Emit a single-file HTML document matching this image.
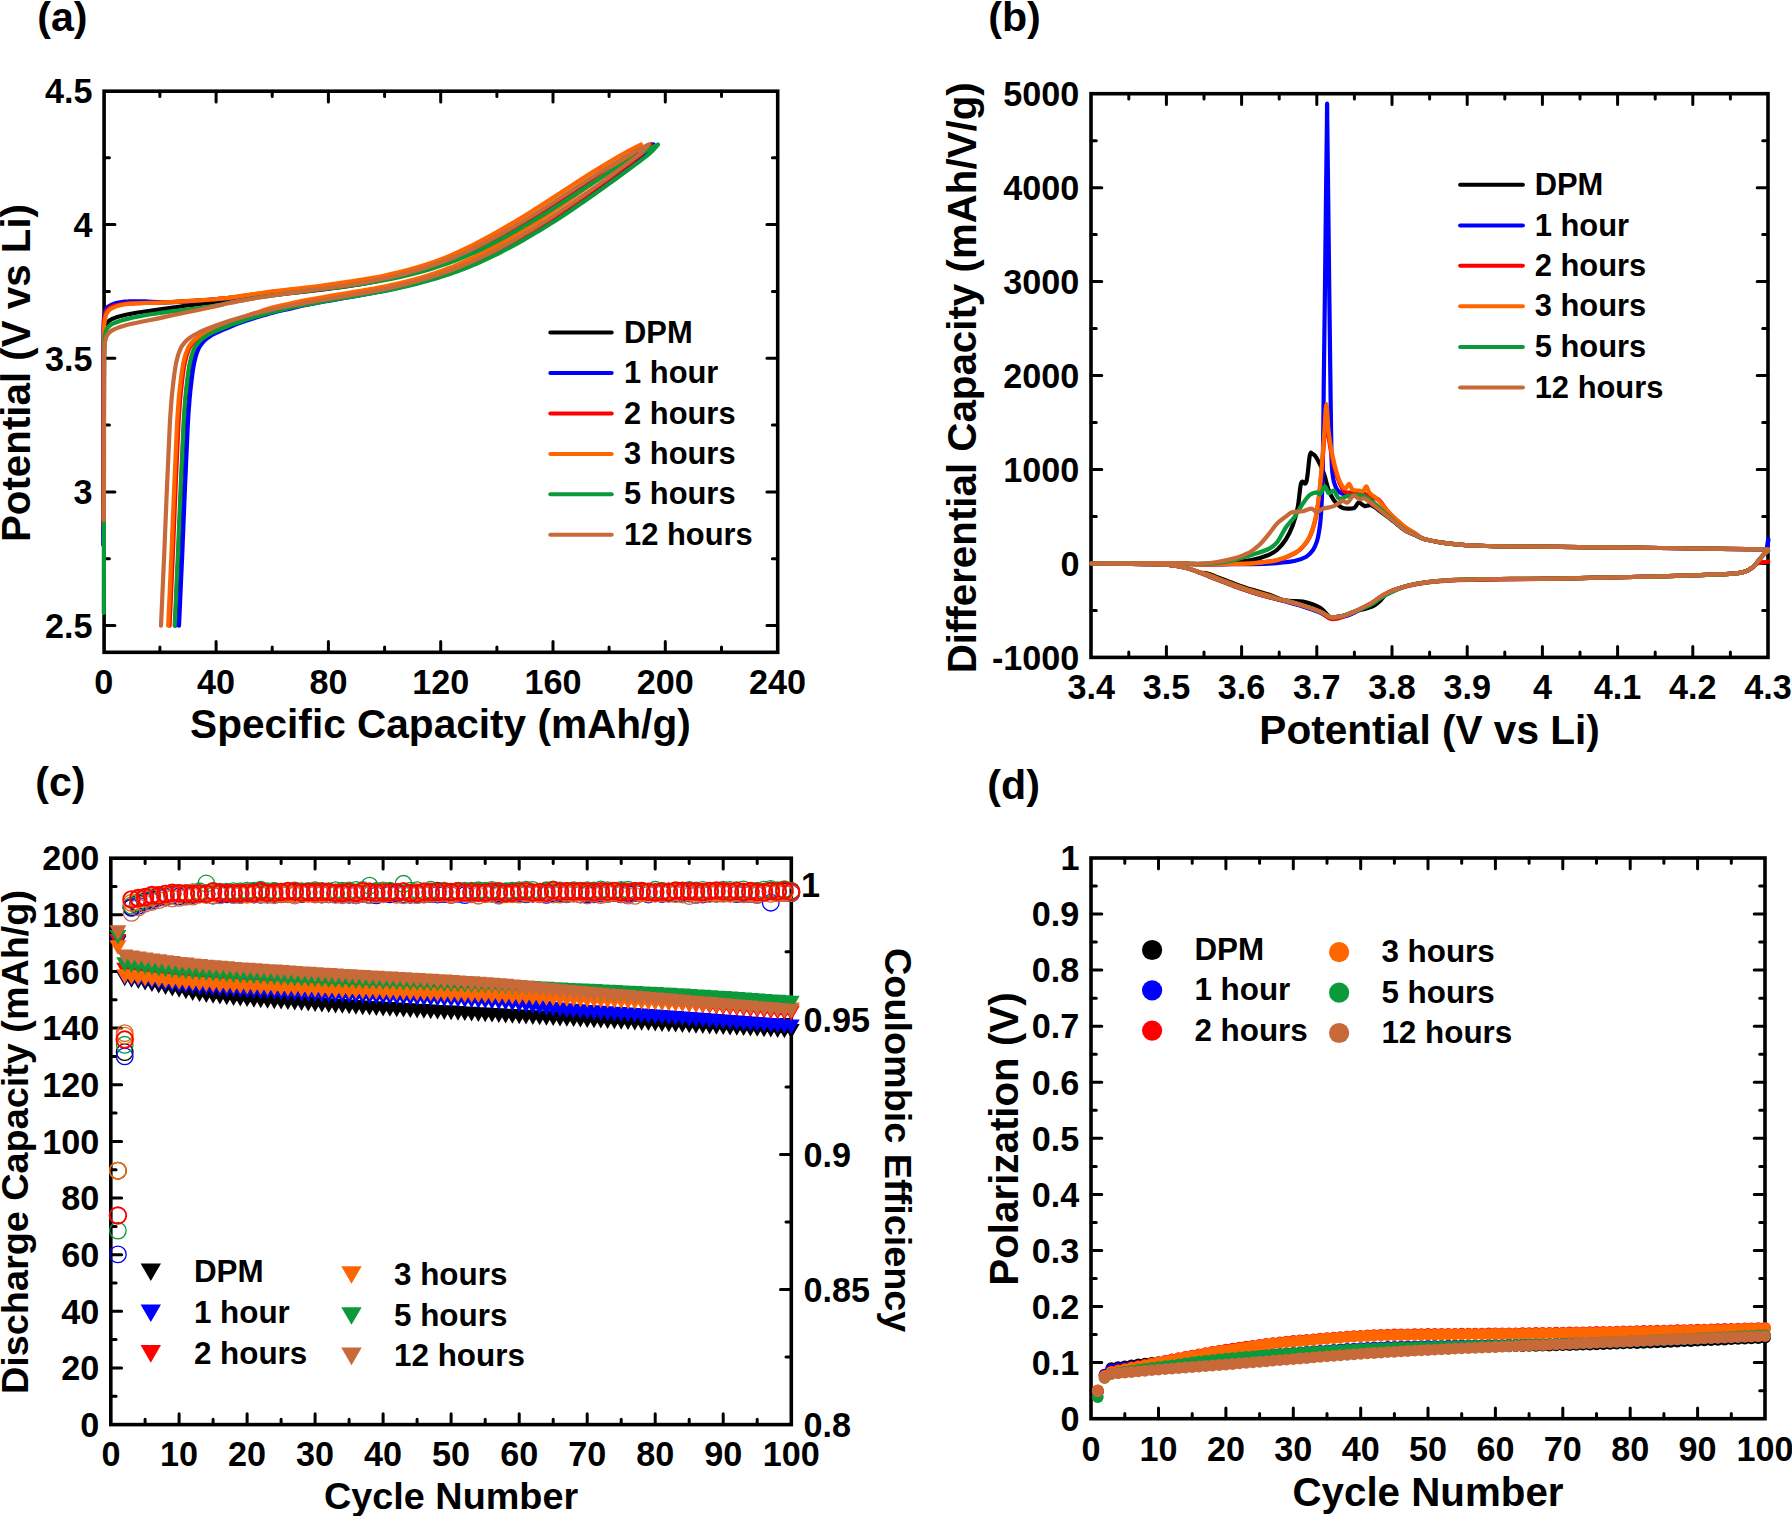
<!DOCTYPE html>
<html lang="en"><head><meta charset="utf-8"><title>Figure</title>
<style>html,body{margin:0;padding:0;background:#fff}svg{display:block}</style></head>
<body>
<svg width="1792" height="1516" viewBox="0 0 1792 1516" font-family="'Liberation Sans', sans-serif" font-weight="bold" fill="#000">
<rect width="1792" height="1516" fill="#fff"/>
<text x="37.2" y="31" font-size="41.2" text-anchor="start">(a)</text>
<text x="988.2" y="31" font-size="41.2" text-anchor="start">(b)</text>
<text x="35.2" y="796" font-size="41.2" text-anchor="start">(c)</text>
<text x="987.3" y="799.3" font-size="41.2" text-anchor="start">(d)</text>
<rect x="104.1" y="91.2" width="673.6" height="561.1" fill="none" stroke="#000" stroke-width="3.6"/>
<path d="M216.1 652.3V641.5M328.4 652.3V641.5M440.7 652.3V641.5M553 652.3V641.5M665.3 652.3V641.5" stroke="#000" stroke-width="3.0" stroke-linecap="round" fill="none"/>
<path d="M159.9 652.3V647M272.2 652.3V647M384.6 652.3V647M496.9 652.3V647M609.1 652.3V647M721.5 652.3V647" stroke="#000" stroke-width="3.0" stroke-linecap="round" fill="none"/>
<path d="M216.1 91.2V102M328.4 91.2V102M440.7 91.2V102M553 91.2V102M665.3 91.2V102" stroke="#000" stroke-width="3.0" stroke-linecap="round" fill="none"/>
<path d="M159.9 91.2V96.5M272.2 91.2V96.5M384.6 91.2V96.5M496.9 91.2V96.5M609.1 91.2V96.5M721.5 91.2V96.5" stroke="#000" stroke-width="3.0" stroke-linecap="round" fill="none"/>
<path d="M104.1 625.6H114.9M104.1 491.9H114.9M104.1 358.3H114.9M104.1 224.6H114.9" stroke="#000" stroke-width="3.0" stroke-linecap="round" fill="none"/>
<path d="M104.1 558.8H109.4M104.1 425.1H109.4M104.1 291.5H109.4M104.1 157.8H109.4" stroke="#000" stroke-width="3.0" stroke-linecap="round" fill="none"/>
<path d="M777.7 625.6H766.9M777.7 491.9H766.9M777.7 358.3H766.9M777.7 224.6H766.9" stroke="#000" stroke-width="3.0" stroke-linecap="round" fill="none"/>
<path d="M777.7 558.8H772.4M777.7 425.1H772.4M777.7 291.5H772.4M777.7 157.8H772.4" stroke="#000" stroke-width="3.0" stroke-linecap="round" fill="none"/>
<text x="103.8" y="694.2" font-size="34.2" text-anchor="middle">0</text>
<text x="216.1" y="694.2" font-size="34.2" text-anchor="middle">40</text>
<text x="328.4" y="694.2" font-size="34.2" text-anchor="middle">80</text>
<text x="440.7" y="694.2" font-size="34.2" text-anchor="middle">120</text>
<text x="553" y="694.2" font-size="34.2" text-anchor="middle">160</text>
<text x="665.3" y="694.2" font-size="34.2" text-anchor="middle">200</text>
<text x="777.6" y="694.2" font-size="34.2" text-anchor="middle">240</text>
<text x="92.5" y="637.8" font-size="34.2" text-anchor="end">2.5</text>
<text x="92.5" y="504.1" font-size="34.2" text-anchor="end">3</text>
<text x="92.5" y="370.5" font-size="34.2" text-anchor="end">3.5</text>
<text x="92.5" y="236.8" font-size="34.2" text-anchor="end">4</text>
<text x="92.5" y="103.2" font-size="34.2" text-anchor="end">4.5</text>
<g>
<path d="M103.8 535C103.8 520.8 103.9 477.5 103.9 450C103.9 422.5 103.9 388.7 104 370C104.1 351.3 104.1 344.8 104.3 338C104.5 331.2 104.5 331.5 105 329C105.5 326.5 106.1 324.4 107.2 322.8C108.3 321.2 109.6 320.3 111.7 319.2C113.8 318.1 117.2 317.1 120 316.3C122.8 315.5 124.3 315 128.5 314.2C132.7 313.4 139.4 312.3 145 311.5C150.6 310.7 155 310.2 162 309.2C169 308.2 178.6 306.7 187 305.5C195.4 304.3 205.3 303.2 212.2 302.3C219.1 301.4 223 300.7 228.4 300.1C233.9 299.4 239.3 298.7 244.8 298.1C250.3 297.5 255.8 296.9 261.3 296.3C266.8 295.7 272.3 295.2 277.8 294.6C283.3 294 288.8 293.3 294.4 292.7C299.9 292.1 305.4 291.4 311 290.8C316.5 290.1 322 289.5 327.6 288.8C333.1 288.1 338.6 287.4 344.1 286.6C349.6 285.8 355.1 285 360.6 284.1C366.1 283.2 371.6 282.2 377 281.1C382.5 280.1 387.9 278.9 393.4 277.7C398.8 276.5 404.2 275.1 409.6 273.7C414.9 272.2 420.3 270.7 425.7 268.9C431.1 267.2 436.5 265.4 441.9 263.4C447.3 261.4 452.7 259.3 458 257C463.4 254.7 468.8 252.3 474.2 249.7C479.6 247.2 485 244.5 490.4 241.6C495.8 238.8 501.1 235.9 506.5 232.9C511.9 229.8 517.3 226.7 522.7 223.5C528.1 220.3 533.5 217 538.9 213.7C544.2 210.4 549.6 206.9 555 203.5C560.4 200 565.8 196.5 571.2 193C576.6 189.5 582 185.9 587.3 182.4C592.7 179 598.1 175.5 603.5 172.1C608.9 168.8 614.3 165.4 619.7 162.2C625.1 159 630.4 155.9 635.8 153C641.2 150 649.3 146 652 144.6M652 144.6C650.6 146.1 647 150.6 643.4 153.8C639.8 157 635 160.2 630.5 163.6C626 167 621.1 170.6 616.3 174.1C611.6 177.5 606.9 181 602.2 184.4C597.5 187.8 592.8 191.2 588 194.5C583.3 197.8 578.6 201.1 573.9 204.3C569.2 207.6 564.5 210.8 559.7 213.9C555 217 550.3 220.1 545.6 223.1C540.9 226 536.2 229 531.4 231.8C526.7 234.7 522 237.4 517.3 240.1C512.6 242.8 507.9 245.4 503.1 247.9C498.4 250.4 493.7 252.9 489 255.2C484.3 257.5 479.5 259.7 474.8 261.8C470.1 263.9 465.4 266 460.7 267.8C456 269.7 451.2 271.5 446.5 273.2C441.8 274.8 437.1 276.4 432.4 277.9C427.7 279.3 422.9 280.7 418.2 282C413.5 283.2 408.8 284.4 404.1 285.6C399.4 286.7 394.6 287.7 389.9 288.8C385.2 289.8 380.5 290.7 375.8 291.6C371 292.5 366.3 293.4 361.6 294.2C356.9 295.1 352.2 295.9 347.5 296.7C342.8 297.5 338 298.3 333.5 299.1C328.9 299.8 324.4 300.6 320 301.4C315.5 302.2 311.2 303 306.9 303.9C302.6 304.8 298.3 305.6 294.1 306.6C289.8 307.5 285.7 308.5 281.5 309.5C277.3 310.5 273.1 311.5 268.9 312.7C264.7 313.8 260.8 314.9 256.2 316.3C251.7 317.7 246.5 319.4 241.7 321C236.9 322.7 231.5 324.7 227.7 326.2C223.9 327.7 221.8 328.6 219.1 329.8C216.3 331 213.5 332.3 211.2 333.5C208.9 334.7 206.9 335.8 205.2 337C203.5 338.2 202.2 339 200.7 340.5C199.2 342 197.4 344.2 196.2 346C195 347.8 194.4 349.6 193.6 351.5C192.8 353.4 192.3 355 191.6 357.6C190.9 360.2 190.2 363.3 189.6 367C189 370.7 188.4 374.5 187.8 380C187.1 385.5 186.3 392.5 185.7 400C185.1 407.5 184.5 415.3 184 425C183.5 434.7 183 446.9 182.5 458C182 469.1 181.7 475.3 181 491.5C180.3 507.7 179.1 538.6 178.4 555C177.7 571.4 177.3 578.2 176.8 590C176.3 601.8 175.5 619.7 175.2 625.6" fill="none" stroke="#000000" stroke-width="4.2" stroke-linejoin="round" stroke-linecap="round"/>
<path d="M103.2 545C103.2 529.2 103.3 480.8 103.3 450C103.3 419.2 103.4 380.7 103.4 360C103.5 339.3 103.4 333.5 103.6 326C103.8 318.5 103.8 318 104.3 315C104.8 312 105.3 309.9 106.5 308.2C107.7 306.5 109.5 305.6 111.7 304.6C114 303.6 117.2 302.8 120 302.3C122.8 301.8 124.3 301.5 128.5 301.4C132.7 301.2 139.6 301.2 145.2 301.4C150.8 301.5 155 302.3 162 302.3C169 302.3 178.6 302 187 301.6C195.4 301.2 205.3 300.3 212.2 299.7C219.1 299.1 223 298.7 228.5 298.1C233.9 297.5 239.4 296.8 244.9 296.1C250.4 295.4 256 294.7 261.5 294C267.1 293.3 272.6 292.6 278.2 292C283.8 291.4 289.4 290.9 295 290.3C300.6 289.7 306.2 289.1 311.8 288.5C317.4 287.9 323 287.3 328.6 286.6C334.2 285.9 339.8 285.2 345.4 284.5C350.9 283.7 356.5 283 362 282.2C367.6 281.3 373.1 280.5 378.6 279.6C384.1 278.6 389.5 277.6 395 276.5C400.4 275.3 405.8 274.1 411.2 272.8C416.6 271.4 421.9 270 427.3 268.4C432.7 266.8 438.1 265.1 443.5 263.2C448.9 261.3 454.3 259.2 459.6 257C465 254.8 470.4 252.3 475.8 249.7C481.2 247.2 486.6 244.5 492 241.6C497.4 238.8 502.7 235.9 508.1 232.9C513.5 229.8 518.9 226.7 524.3 223.5C529.7 220.3 535.1 217 540.5 213.7C545.8 210.4 551.2 206.9 556.6 203.5C562 200 567.4 196.5 572.8 193C578.2 189.5 583.6 185.9 588.9 182.4C594.3 179 599.7 175.5 605.1 172.1C610.5 168.8 615.9 165.4 621.3 162.2C626.7 159 632 155.9 637.4 153C642.8 150 650.9 146 653.6 144.6M653.6 144.6C652.2 146.1 648.6 150.6 645 153.8C641.4 157 636.6 160.2 632.1 163.6C627.6 167 622.7 170.6 617.9 174.1C613.2 177.5 608.5 181 603.8 184.4C599.1 187.8 594.4 191.2 589.6 194.5C584.9 197.8 580.2 201.1 575.5 204.3C570.8 207.6 566.1 210.8 561.3 213.9C556.6 217 551.9 220.1 547.2 223.1C542.5 226 537.8 229 533 231.8C528.3 234.7 523.6 237.4 518.9 240.1C514.2 242.8 509.5 245.4 504.7 247.9C500 250.4 495.3 252.9 490.6 255.2C485.9 257.5 481.1 259.7 476.4 261.8C471.7 263.9 467 265.9 462.3 267.8C457.6 269.7 452.8 271.5 448.1 273.2C443.4 274.9 438.7 276.5 434 278C429.3 279.4 424.5 280.8 419.8 282.1C415.1 283.4 410.4 284.7 405.7 285.8C401 287 396.2 288 391.5 289.1C386.8 290.1 382.1 291.1 377.4 292C372.6 292.9 367.9 293.8 363.2 294.7C358.5 295.6 353.8 296.4 349.1 297.2C344.4 298 339.6 298.8 335.1 299.6C330.5 300.3 326.1 301.1 321.7 301.9C317.4 302.7 313.1 303.5 308.9 304.4C304.6 305.3 300.5 306.1 296.3 307.1C292.2 308 288.1 309 284 310C279.9 310.9 275.9 311.9 271.8 313C267.7 314.1 263.9 315.2 259.4 316.5C255 317.8 249.9 319.4 245.2 321.1C240.5 322.7 235.1 324.7 231.4 326.2C227.7 327.7 225.6 328.6 222.8 329.8C220.1 331 217.3 332.3 215 333.5C212.7 334.7 210.7 335.8 209 337C207.3 338.2 206 339 204.5 340.5C203 342 201.2 344.2 200 346C198.8 347.8 198.2 349.6 197.4 351.5C196.6 353.4 196.1 355 195.4 357.6C194.7 360.2 194 363.3 193.4 367C192.8 370.7 192.2 374.5 191.6 380C190.9 385.5 190.1 392.5 189.5 400C188.9 407.5 188.3 415.3 187.8 425C187.3 434.7 186.8 446.9 186.3 458C185.8 469.1 185.5 475.3 184.8 491.5C184.1 507.7 182.9 538.6 182.2 555C181.5 571.4 181.1 578.2 180.6 590C180.1 601.8 179.3 619.7 179 625.6" fill="none" stroke="#0000ff" stroke-width="4.2" stroke-linejoin="round" stroke-linecap="round"/>
<path d="M103.4 525C103.4 512.5 103.5 477.5 103.5 450C103.5 422.5 103.5 380.3 103.6 360C103.6 339.7 103.7 335 103.8 328C103.9 321 104 320.8 104.4 318C104.8 315.2 105.3 313 106.4 311.2C107.5 309.4 108.7 308.3 111 307.2C113.3 306.1 117.1 305.2 120 304.6C122.9 304 124.3 303.7 128.5 303.4C132.7 303.1 139.4 302.9 145 302.8C150.6 302.7 155 302.8 162 302.5C169 302.2 178.6 301.7 187 301.2C195.4 300.7 205.3 300 212.2 299.5C219.1 299 223 298.5 228.4 297.9C233.8 297.3 239.2 296.5 244.7 295.7C250.1 295 255.6 294.2 261 293.5C266.5 292.8 271.9 292 277.4 291.3C282.9 290.7 288.3 290.2 293.8 289.6C299.3 289.1 304.8 288.5 310.2 287.9C315.7 287.3 321.2 286.6 326.6 286C332.1 285.3 337.6 284.6 343 283.9C348.5 283.1 354 282.4 359.4 281.6C364.9 280.8 370.3 280 375.7 279.1C381.2 278.2 386.6 277.2 392 276.1C397.4 275 402.8 273.8 408.2 272.5C413.5 271.2 418.9 269.8 424.3 268.2C429.7 266.6 435.1 265 440.5 263.1C445.9 261.2 451.3 259.2 456.6 257C462 254.8 467.4 252.3 472.8 249.7C478.2 247.2 483.6 244.5 489 241.6C494.4 238.8 499.7 235.9 505.1 232.9C510.5 229.8 515.9 226.7 521.3 223.5C526.7 220.3 532.1 217 537.5 213.7C542.8 210.4 548.2 206.9 553.6 203.5C559 200 564.4 196.5 569.8 193C575.2 189.5 580.6 185.9 585.9 182.4C591.3 179 596.7 175.5 602.1 172.1C607.5 168.8 612.9 165.4 618.3 162.2C623.7 159 629 155.9 634.4 153C639.8 150 647.9 146 650.6 144.6M650.6 144.6C649.2 146.1 645.6 150.6 642 153.8C638.4 157 633.6 160.2 629.1 163.6C624.6 167 619.7 170.6 614.9 174.1C610.2 177.5 605.5 181 600.8 184.4C596.1 187.8 591.4 191.2 586.6 194.5C581.9 197.8 577.2 201.1 572.5 204.3C567.8 207.6 563.1 210.8 558.3 213.9C553.6 217 548.9 220.1 544.2 223.1C539.5 226 534.8 229 530 231.8C525.3 234.7 520.6 237.4 515.9 240.1C511.2 242.8 506.5 245.4 501.7 247.9C497 250.4 492.3 252.9 487.6 255.2C482.9 257.5 478.1 259.7 473.4 261.8C468.7 263.9 464 266 459.3 267.8C454.6 269.7 449.8 271.4 445.1 273.1C440.4 274.7 435.7 276.1 431 277.5C426.3 278.9 421.5 280.2 416.8 281.4C412.1 282.6 407.4 283.7 402.7 284.8C398 285.8 393.2 286.8 388.5 287.7C383.8 288.7 379.1 289.5 374.4 290.4C369.6 291.2 364.9 292 360.2 292.8C355.5 293.6 350.8 294.3 346.1 295.1C341.4 295.9 336.6 296.7 332 297.5C327.4 298.2 322.8 299 318.3 299.8C313.7 300.6 309.2 301.4 304.8 302.3C300.3 303.2 295.9 304 291.4 305C287 305.9 282.6 306.8 278.2 307.9C273.8 309 269.4 310.3 265 311.6C260.6 312.9 256.5 314.1 251.8 315.7C247.1 317.2 241.6 319.1 236.7 320.9C231.8 322.7 226.2 324.7 222.3 326.2C218.4 327.7 216.3 328.6 213.5 329.8C210.7 331 207.9 332.3 205.6 333.5C203.3 334.7 201.3 335.8 199.6 337C197.9 338.2 196.6 339 195.1 340.5C193.6 342 191.8 344.2 190.6 346C189.4 347.8 188.8 349.6 188 351.5C187.2 353.4 186.7 355 186 357.6C185.3 360.2 184.6 363.3 184 367C183.4 370.7 182.8 374.5 182.2 380C181.5 385.5 180.7 392.5 180.1 400C179.5 407.5 178.9 415.3 178.4 425C177.9 434.7 177.4 446.9 176.9 458C176.4 469.1 176.1 475.3 175.4 491.5C174.7 507.7 173.5 538.6 172.8 555C172.1 571.4 171.7 578.2 171.2 590C170.7 601.8 169.9 619.7 169.6 625.6" fill="none" stroke="#ff0000" stroke-width="4.2" stroke-linejoin="round" stroke-linecap="round"/>
<path d="M103.7 520C103.7 508.3 103.8 476.7 103.8 450C103.8 423.3 103.9 380 103.9 360C104 340 103.9 336.7 104.1 330C104.2 323.3 104.3 322.9 104.8 320C105.3 317.1 105.8 314.7 107 312.8C108.2 310.9 109.5 309.6 111.7 308.4C113.9 307.1 117.2 306.1 120 305.3C122.8 304.5 124.3 304.2 128.5 303.8C132.7 303.4 139.4 303.2 145 303C150.6 302.8 155 302.9 162 302.6C169 302.3 178.6 301.7 187 301.2C195.4 300.7 205.3 300 212.2 299.5C219.1 299 222.9 298.5 228.2 297.9C233.5 297.3 238.7 296.4 243.9 295.7C249.1 294.9 254.3 294.1 259.4 293.4C264.6 292.6 269.7 291.8 274.8 291.1C279.9 290.5 284.9 290 290 289.4C295.1 288.9 300.1 288.3 305.2 287.7C310.3 287.1 315.3 286.4 320.4 285.8C325.5 285.1 330.5 284.4 335.7 283.7C340.8 282.9 345.9 282.2 351.1 281.4C356.2 280.6 361.4 279.8 366.6 278.9C371.9 278 377.1 277.1 382.5 276C387.8 274.9 393.2 273.7 398.6 272.4C403.9 271.1 409.3 269.7 414.7 268.1C420.1 266.6 425.5 264.9 430.9 263.1C436.3 261.2 441.7 259.2 447 257C452.4 254.8 457.8 252.3 463.2 249.7C468.6 247.2 474 244.5 479.4 241.6C484.8 238.8 490.1 235.9 495.5 232.9C500.9 229.8 506.3 226.7 511.7 223.5C517.1 220.3 522.5 217 527.9 213.7C533.2 210.4 538.6 206.9 544 203.5C549.4 200 554.8 196.5 560.2 193C565.6 189.5 571 185.9 576.3 182.4C581.7 179 587.1 175.5 592.5 172.1C597.9 168.8 603.3 165.4 608.7 162.2C614.1 159 619.4 155.9 624.8 153C630.2 150 638.3 146 641 144.6M641 144.6C639.6 146.1 636 150.6 632.4 153.8C628.8 157 624 160.2 619.5 163.6C615 167 610.1 170.6 605.3 174.1C600.6 177.5 595.9 181 591.2 184.4C586.5 187.8 581.8 191.2 577 194.5C572.3 197.8 567.6 201.1 562.9 204.3C558.2 207.6 553.5 210.8 548.7 213.9C544 217 539.3 220.1 534.6 223.1C529.9 226 525.2 229 520.4 231.8C515.7 234.7 511 237.4 506.3 240.1C501.6 242.8 496.9 245.4 492.1 247.9C487.4 250.4 482.7 252.9 478 255.2C473.3 257.5 468.5 259.7 463.8 261.8C459.1 263.9 454.4 266 449.7 267.8C445 269.7 440.2 271.4 435.5 273C430.8 274.6 426.1 276.1 421.4 277.5C416.7 278.8 411.9 280.1 407.2 281.3C402.5 282.5 397.8 283.6 393.1 284.6C388.4 285.7 383.6 286.6 378.9 287.5C374.2 288.5 369.5 289.3 364.8 290.1C360 291 355.3 291.7 350.6 292.5C345.9 293.3 341.1 294 336.5 294.8C331.8 295.6 327 296.4 322.5 297.2C318 297.9 313.6 298.7 309.3 299.5C304.9 300.3 300.7 301.1 296.6 302C292.4 302.9 288.3 303.7 284.3 304.7C280.2 305.6 276.2 306.5 272.2 307.6C268.2 308.8 264.2 310.1 260.2 311.4C256.2 312.7 252.5 314 248.1 315.5C243.8 317.1 238.7 319.1 234.1 320.9C229.5 322.6 224.2 324.7 220.5 326.2C216.8 327.7 214.7 328.6 212 329.8C209.3 331 206.5 332.3 204.2 333.5C201.9 334.7 199.9 335.8 198.2 337C196.5 338.2 195.2 339 193.7 340.5C192.2 342 190.4 344.2 189.2 346C188 347.8 187.4 349.6 186.6 351.5C185.8 353.4 185.3 355 184.6 357.6C183.9 360.2 183.2 363.3 182.6 367C182 370.7 181.4 374.5 180.8 380C180.1 385.5 179.3 392.5 178.7 400C178.1 407.5 177.5 415.3 177 425C176.5 434.7 176 446.9 175.5 458C175 469.1 174.7 475.3 174 491.5C173.3 507.7 172.1 538.6 171.4 555C170.7 571.4 170.3 578.2 169.8 590C169.3 601.8 168.5 619.7 168.2 625.6" fill="none" stroke="#ff6600" stroke-width="4.2" stroke-linejoin="round" stroke-linecap="round"/>
<path d="M103.8 613C103.8 594.2 103.9 538.8 103.9 500C103.9 461.2 103.9 405.8 104 380C104.1 354.2 104.1 352.5 104.3 345C104.5 337.5 104.6 337.8 105.1 335C105.6 332.2 106.1 330.3 107.2 328.5C108.3 326.7 109.6 325.6 111.7 324.3C113.8 323.1 117.2 321.9 120 321C122.8 320.1 124.3 319.6 128.5 318.6C132.7 317.7 139.4 316.3 145 315.3C150.6 314.3 155 313.7 162 312.7C169 311.7 178.6 310.6 187 309.5C195.4 308.4 205.3 307.5 212.2 306.4C219.1 305.3 223 304 228.6 302.8C234.1 301.7 239.7 300.7 245.3 299.7C250.9 298.7 256.6 297.8 262.2 296.9C267.9 296.1 273.7 295.2 279.4 294.5C285.2 293.7 291 293 296.7 292.3C302.5 291.6 308.3 290.9 314.1 290.2C319.9 289.5 325.7 288.8 331.5 288C337.2 287.3 343 286.6 348.7 285.8C354.5 285 360.2 284.1 365.8 283.3C371.5 282.4 377.2 281.4 382.7 280.4C388.3 279.4 393.8 278.3 399.3 277.1C404.8 275.9 410.2 274.6 415.6 273.2C421 271.8 426.3 270.3 431.7 268.7C437.1 267 442.5 265.3 447.9 263.3C453.3 261.4 458.7 259.3 464 257C469.4 254.8 474.8 252.3 480.2 249.8C485.6 247.2 491 244.5 496.4 241.7C501.8 238.8 507.1 235.9 512.5 232.9C517.9 229.8 523.3 226.7 528.7 223.5C534.1 220.3 539.5 217 544.9 213.7C550.2 210.4 555.6 206.9 561 203.5C566.4 200 571.8 196.5 577.2 193C582.6 189.5 588 185.9 593.3 182.4C598.7 179 604.1 175.5 609.5 172.1C614.9 168.8 620.3 165.4 625.7 162.2C631.1 159 636.4 155.9 641.8 153C647.2 150 655.3 146 658 144.6M658 144.6C656.6 146.1 653 150.6 649.4 153.8C645.8 157 641 160.2 636.5 163.6C632 167 627.1 170.6 622.3 174.1C617.6 177.5 612.9 181 608.2 184.4C603.5 187.8 598.8 191.2 594 194.5C589.3 197.8 584.6 201.1 579.9 204.3C575.2 207.6 570.5 210.8 565.7 213.9C561 217 556.3 220.1 551.6 223.1C546.9 226 542.2 229 537.4 231.8C532.7 234.7 528 237.4 523.3 240.1C518.6 242.8 513.9 245.4 509.1 247.9C504.4 250.4 499.7 252.9 495 255.2C490.3 257.5 485.5 259.7 480.8 261.8C476.1 263.9 471.4 266 466.7 267.8C462 269.7 457.2 271.5 452.5 273.1C447.8 274.8 443.1 276.3 438.4 277.8C433.7 279.2 428.9 280.6 424.2 281.8C419.5 283.1 414.8 284.3 410.1 285.4C405.4 286.5 400.6 287.6 395.9 288.6C391.2 289.6 386.5 290.5 381.8 291.4C377 292.3 372.3 293.1 367.6 294C362.9 294.8 358.2 295.6 353.5 296.4C348.8 297.2 344 298 339.4 298.8C334.7 299.5 330.1 300.3 325.5 301.1C320.9 301.9 316.3 302.7 311.8 303.6C307.2 304.5 302.7 305.3 298.1 306.3C293.6 307.2 289.1 308.1 284.6 309.2C280.1 310.2 275.6 311.3 271.1 312.5C266.6 313.6 262.3 314.8 257.5 316.2C252.7 317.6 247.1 319.3 242.1 321C237.1 322.7 231.4 324.7 227.5 326.2C223.6 327.7 221.4 328.6 218.6 329.8C215.8 331 213 332.3 210.7 333.5C208.4 334.7 206.4 335.8 204.7 337C203 338.2 201.7 339 200.2 340.5C198.7 342 196.9 344.2 195.7 346C194.5 347.8 193.9 349.6 193.1 351.5C192.3 353.4 191.8 355 191.1 357.6C190.4 360.2 189.7 363.3 189.1 367C188.5 370.7 187.9 374.5 187.3 380C186.6 385.5 185.8 392.5 185.2 400C184.6 407.5 184 415.3 183.5 425C183 434.7 182.5 446.9 182 458C181.5 469.1 181.2 475.3 180.5 491.5C179.8 507.7 178.6 538.6 177.9 555C177.2 571.4 176.8 578.2 176.3 590C175.8 601.8 175 619.7 174.7 625.6" fill="none" stroke="#0a9a3a" stroke-width="4.2" stroke-linejoin="round" stroke-linecap="round"/>
<path d="M103.9 520C103.9 508.3 104 473.3 104 450C104 426.7 104 396.7 104.1 380C104.2 363.3 104.2 356.5 104.4 350C104.6 343.5 104.7 343.5 105.2 341C105.7 338.5 106.1 336.7 107.2 335C108.3 333.3 109.6 331.9 111.7 330.6C113.8 329.3 117.2 328 120 327C122.8 326 124.3 325.5 128.5 324.5C132.7 323.5 139.4 322.1 145 321C150.6 319.9 155 319.1 162 317.6C169 316.2 178.6 314.1 187 312.3C195.4 310.5 205.3 308.4 212.2 306.9C219.1 305.4 223 304.4 228.4 303.2C233.8 302.1 239.1 301 244.5 300.1C249.9 299.1 255.3 298.2 260.7 297.3C266.1 296.5 271.5 295.7 276.9 294.9C282.2 294.1 287.6 293.4 293 292.7C298.4 291.9 303.8 291.2 309.2 290.5C314.6 289.8 320 289.1 325.3 288.4C330.7 287.6 336.1 286.9 341.5 286.1C346.9 285.3 352.3 284.5 357.7 283.6C363.1 282.6 368.4 281.7 373.8 280.7C379.2 279.6 384.6 278.5 390 277.3C395.4 276.1 400.8 274.8 406.2 273.4C411.5 272 416.9 270.4 422.3 268.8C427.7 267.1 433.1 265.3 438.5 263.3C443.9 261.4 449.3 259.3 454.6 257C460 254.8 465.4 252.3 470.8 249.8C476.2 247.2 481.6 244.5 487 241.7C492.4 238.8 497.7 235.9 503.1 232.9C508.5 229.8 513.9 226.7 519.3 223.5C524.7 220.3 530.1 217 535.5 213.7C540.8 210.4 546.2 206.9 551.6 203.5C557 200 562.4 196.5 567.8 193C573.2 189.5 578.6 185.9 583.9 182.4C589.3 179 594.7 175.5 600.1 172.1C605.5 168.8 610.9 165.4 616.3 162.2C621.7 159 627 155.9 632.4 153C637.8 150 645.9 146 648.6 144.6M648.6 144.6C647.2 146.1 643.6 150.6 640 153.8C636.4 157 631.6 160.2 627.1 163.6C622.6 167 617.7 170.6 612.9 174.1C608.2 177.5 603.5 181 598.8 184.4C594.1 187.8 589.4 191.2 584.6 194.5C579.9 197.8 575.2 201.1 570.5 204.3C565.8 207.6 561.1 210.8 556.3 213.9C551.6 217 546.9 220.1 542.2 223.1C537.5 226 532.8 229 528 231.8C523.3 234.7 518.6 237.4 513.9 240.1C509.2 242.8 504.5 245.4 499.7 247.9C495 250.4 490.3 252.9 485.6 255.2C480.9 257.5 476.1 259.7 471.4 261.8C466.7 263.9 462 266 457.3 267.8C452.6 269.7 447.8 271.5 443.1 273.1C438.4 274.8 433.7 276.3 429 277.8C424.3 279.2 419.5 280.6 414.8 281.8C410.1 283.1 405.4 284.3 400.7 285.4C396 286.5 391.2 287.6 386.5 288.6C381.8 289.6 377.1 290.5 372.4 291.4C367.6 292.3 362.9 293.1 358.2 294C353.5 294.8 348.8 295.6 344.1 296.4C339.3 297.2 334.6 298 329.9 298.8C325.2 299.5 320.5 300.3 315.8 301.1C311 301.9 306.3 302.7 301.6 303.6C296.9 304.5 292.2 305.3 287.5 306.3C282.7 307.2 278 308.1 273.3 309.2C268.6 310.2 263.9 311.3 259.2 312.5C254.4 313.6 250 314.8 245 316.2C240 317.6 234.2 319.3 229 321C223.8 322.7 218 324.7 214 326.2C210 327.7 207.8 328.6 205 329.8C202.2 331 199.3 332.3 197 333.5C194.7 334.7 192.8 335.8 191 337C189.2 338.2 188 339 186.5 340.5C185 342 183.2 344.2 182 346C180.8 347.8 180.2 349.6 179.4 351.5C178.6 353.4 178.1 355 177.4 357.6C176.7 360.2 176 363.3 175.4 367C174.8 370.7 174.2 374.5 173.6 380C172.9 385.5 172.1 392.5 171.5 400C170.9 407.5 170.3 415.3 169.8 425C169.3 434.7 168.8 446.9 168.3 458C167.8 469.1 167.5 475.3 166.8 491.5C166.1 507.7 164.9 538.6 164.2 555C163.5 571.4 163.1 578.2 162.6 590C162.1 601.8 161.3 619.7 161 625.6" fill="none" stroke="#c8693a" stroke-width="4.2" stroke-linejoin="round" stroke-linecap="round"/>
</g>
<path d="M550.3 332.6H611.7" stroke="#000000" stroke-width="4" stroke-linecap="round"/>
<text x="624" y="342.7" font-size="30.9" text-anchor="start">DPM</text>
<path d="M550.3 373H611.7" stroke="#0000ff" stroke-width="4" stroke-linecap="round"/>
<text x="624" y="383.1" font-size="30.9" text-anchor="start">1 hour</text>
<path d="M550.3 413.6H611.7" stroke="#ff0000" stroke-width="4" stroke-linecap="round"/>
<text x="624" y="423.7" font-size="30.9" text-anchor="start">2 hours</text>
<path d="M550.3 453.9H611.7" stroke="#ff6600" stroke-width="4" stroke-linecap="round"/>
<text x="624" y="464" font-size="30.9" text-anchor="start">3 hours</text>
<path d="M550.3 494.3H611.7" stroke="#0a9a3a" stroke-width="4" stroke-linecap="round"/>
<text x="624" y="504.4" font-size="30.9" text-anchor="start">5 hours</text>
<path d="M550.3 534.7H611.7" stroke="#c8693a" stroke-width="4" stroke-linecap="round"/>
<text x="624" y="544.8" font-size="30.9" text-anchor="start">12 hours</text>
<text x="440.4" y="738.3" font-size="40.6" text-anchor="middle">Specific Capacity (mAh/g)</text>
<text x="30.1" y="373" font-size="40.3" text-anchor="middle" transform="rotate(-90 30.1 373)">Potential (V vs Li)</text>
<rect x="1091" y="93.7" width="677" height="563.7" fill="none" stroke="#000" stroke-width="3.6"/>
<path d="M1166.4 657.4V646.6M1241.6 657.4V646.6M1316.8 657.4V646.6M1392 657.4V646.6M1467.2 657.4V646.6M1542.4 657.4V646.6M1617.6 657.4V646.6M1692.8 657.4V646.6" stroke="#000" stroke-width="3.0" stroke-linecap="round" fill="none"/>
<path d="M1128.8 657.4V652.1M1204 657.4V652.1M1279.2 657.4V652.1M1354.4 657.4V652.1M1429.6 657.4V652.1M1504.8 657.4V652.1M1580 657.4V652.1M1655.2 657.4V652.1M1730.4 657.4V652.1" stroke="#000" stroke-width="3.0" stroke-linecap="round" fill="none"/>
<path d="M1166.4 93.7V104.5M1241.6 93.7V104.5M1316.8 93.7V104.5M1392 93.7V104.5M1467.2 93.7V104.5M1542.4 93.7V104.5M1617.6 93.7V104.5M1692.8 93.7V104.5" stroke="#000" stroke-width="3.0" stroke-linecap="round" fill="none"/>
<path d="M1128.8 93.7V99M1204 93.7V99M1279.2 93.7V99M1354.4 93.7V99M1429.6 93.7V99M1504.8 93.7V99M1580 93.7V99M1655.2 93.7V99M1730.4 93.7V99" stroke="#000" stroke-width="3.0" stroke-linecap="round" fill="none"/>
<path d="M1091 563.5H1101.8M1091 469.5H1101.8M1091 375.6H1101.8M1091 281.6H1101.8M1091 187.7H1101.8" stroke="#000" stroke-width="3.0" stroke-linecap="round" fill="none"/>
<path d="M1091 610.4H1096.3M1091 516.5H1096.3M1091 422.5H1096.3M1091 328.6H1096.3M1091 234.6H1096.3M1091 140.7H1096.3" stroke="#000" stroke-width="3.0" stroke-linecap="round" fill="none"/>
<path d="M1768 563.5H1757.2M1768 469.5H1757.2M1768 375.6H1757.2M1768 281.6H1757.2M1768 187.7H1757.2" stroke="#000" stroke-width="3.0" stroke-linecap="round" fill="none"/>
<path d="M1768 610.4H1762.7M1768 516.5H1762.7M1768 422.5H1762.7M1768 328.6H1762.7M1768 234.6H1762.7M1768 140.7H1762.7" stroke="#000" stroke-width="3.0" stroke-linecap="round" fill="none"/>
<text x="1091.2" y="699.2" font-size="34.2" text-anchor="middle">3.4</text>
<text x="1166.4" y="699.2" font-size="34.2" text-anchor="middle">3.5</text>
<text x="1241.6" y="699.2" font-size="34.2" text-anchor="middle">3.6</text>
<text x="1316.8" y="699.2" font-size="34.2" text-anchor="middle">3.7</text>
<text x="1392" y="699.2" font-size="34.2" text-anchor="middle">3.8</text>
<text x="1467.2" y="699.2" font-size="34.2" text-anchor="middle">3.9</text>
<text x="1542.4" y="699.2" font-size="34.2" text-anchor="middle">4</text>
<text x="1617.6" y="699.2" font-size="34.2" text-anchor="middle">4.1</text>
<text x="1692.8" y="699.2" font-size="34.2" text-anchor="middle">4.2</text>
<text x="1768" y="699.2" font-size="34.2" text-anchor="middle">4.3</text>
<text x="1079.4" y="669.6" font-size="34.2" text-anchor="end">-1000</text>
<text x="1079.4" y="575.7" font-size="34.2" text-anchor="end">0</text>
<text x="1079.4" y="481.7" font-size="34.2" text-anchor="end">1000</text>
<text x="1079.4" y="387.8" font-size="34.2" text-anchor="end">2000</text>
<text x="1079.4" y="293.8" font-size="34.2" text-anchor="end">3000</text>
<text x="1079.4" y="199.9" font-size="34.2" text-anchor="end">4000</text>
<text x="1079.4" y="105.9" font-size="34.2" text-anchor="end">5000</text>
<g>
<path d="M1091.2 563.5C1096 563.5 1110.2 563.4 1120 563.4C1129.8 563.4 1140.8 563.2 1150 563.2C1159.2 563.2 1166.7 563.1 1175 563.2C1183.3 563.3 1191.5 564 1200 564C1208.5 564 1217.2 563.8 1225.7 563.2C1234.3 562.5 1244.3 561.5 1251.5 560.1C1258.6 558.7 1264.3 556.7 1268.6 555C1272.9 553.2 1274.3 552.4 1277.2 549.8C1280 547.2 1283.2 543.5 1285.8 539.5C1288.3 535.5 1290.6 531.2 1292.6 525.8C1294.6 520.4 1296.3 514.1 1297.8 506.9C1299.2 499.8 1299.8 487.1 1301.2 482.9C1302.6 478.8 1304.9 486.6 1306.3 482.1C1307.8 477.5 1308.8 460.2 1309.8 455.5C1310.8 450.8 1311.2 453.3 1312.3 453.8C1313.5 454.2 1314.8 454.9 1316.6 458C1318.5 461.2 1321.5 467.3 1323.5 472.6C1325.5 477.9 1326.9 485.2 1328.6 489.8C1330.4 494.4 1331.8 497.2 1333.8 500.1C1335.8 502.9 1338.4 505.5 1340.7 506.9C1342.9 508.4 1345.2 508.5 1347.5 508.6C1349.8 508.8 1352.5 508.8 1354.4 507.8C1356.2 506.8 1356.9 502.9 1358.7 502.6C1360.4 502.4 1362.5 505.6 1364.7 506.1C1366.8 506.5 1369 504.4 1371.5 505.2C1374.1 506.1 1377.2 509.2 1380.1 511.2C1383 513.3 1385.8 515.4 1388.7 517.6C1391.5 519.8 1394.4 522.2 1397.3 524.4C1400.1 526.7 1403 529.2 1405.8 530.9C1408.7 532.7 1411.5 533.4 1414.4 534.7C1417.3 536 1420.1 537.7 1423 538.7C1425.8 539.7 1428.7 540.1 1431.6 540.7C1434.4 541.3 1435.8 541.7 1440.1 542.3C1444.4 542.9 1451.6 543.8 1457.3 544.3C1463 544.9 1467.3 545.2 1474.4 545.5C1481.6 545.9 1489.1 546.2 1500 546.4C1510.9 546.6 1523.3 546.4 1540 546.6C1556.7 546.8 1580 547.1 1600 547.3C1620 547.5 1640 547.8 1660 548C1680 548.2 1705 548.6 1720 548.8C1735 549 1742 549.1 1750 549.2C1758 549.3 1765 549.4 1768 549.4M1091.2 563.6C1096 563.6 1110.2 563.7 1120 563.8C1129.8 563.9 1141.9 563.9 1150 564.1C1158.1 564.3 1162.8 564.4 1168.7 565C1174.6 565.6 1180.3 566.6 1185.5 567.8C1190.7 569 1196.2 571.5 1200 572.5C1203.8 573.4 1205.7 572.9 1208.6 573.7C1211.4 574.4 1212.9 575.4 1217.2 577.1C1221.4 578.7 1228.6 581.5 1234.3 583.6C1240 585.7 1245.7 587.8 1251.5 589.6C1257.2 591.4 1262.9 592.8 1268.6 594.6C1274.3 596.4 1280 599.4 1285.8 600.6C1291.5 601.8 1297.2 600.4 1302.9 601.6C1308.6 602.8 1315.6 605.2 1320.1 607.8C1324.6 610.3 1327 615.4 1329.8 616.9C1332.7 618.4 1334.6 617.2 1337.2 616.9C1339.9 616.6 1342.9 615.9 1345.8 615C1348.7 614.1 1350.1 612.9 1354.4 611.6C1358.7 610.2 1367.2 608.6 1371.5 606.8C1375.8 605 1377.2 603.2 1380.1 600.8C1383 598.3 1384.4 594.6 1388.7 592.2C1393 589.7 1400.1 587.7 1405.8 586.2C1411.5 584.6 1417.3 583.6 1423 582.7C1428.7 581.9 1434.4 581.3 1440.1 580.9C1445.9 580.4 1447.3 580.1 1457.3 579.8C1467.3 579.5 1486.2 579.1 1500 579C1513.8 578.8 1523.3 579.1 1540 578.9C1556.7 578.7 1580 578.1 1600 577.7C1620 577.3 1643.3 576.7 1660 576.3C1676.7 575.9 1689 575.6 1700 575.2C1711 574.9 1719.7 574.5 1726 574.2C1732.3 573.9 1734.6 573.7 1738 573.2C1741.4 572.7 1744.2 571.9 1746.5 571C1748.8 570.1 1750.4 569 1752 567.8C1753.6 566.6 1754.7 565.3 1756 563.8C1757.3 562.3 1758.7 560.4 1760 558.8C1761.3 557.2 1762.7 555.5 1764 554.2C1765.3 552.9 1767.3 551.4 1768 550.8" fill="none" stroke="#000000" stroke-width="4.2" stroke-linejoin="round" stroke-linecap="round"/>
<path d="M1091.2 563.5C1096 563.5 1110.2 563.4 1120 563.4C1129.8 563.4 1140.8 563.2 1150 563.2C1159.2 563.2 1166.7 563 1175 563.2C1183.3 563.4 1190.1 564.2 1200 564.4C1209.9 564.6 1222.9 564.3 1234.3 564.2C1245.7 564.1 1258.6 564.2 1268.6 563.7C1278.6 563.2 1288.1 562.1 1294.3 561C1300.6 559.8 1303.2 558.5 1306.3 556.7C1309.5 554.8 1311.4 552.4 1313.2 549.8C1315 547.2 1316 544.2 1317 541.2C1318 538.2 1318.4 535.4 1319 531.8C1319.6 528.2 1320.1 525.1 1320.6 519.8C1321 514.5 1321.4 509.1 1321.8 500.1C1322.2 491.1 1322.5 485.8 1322.8 465.8C1323.2 445.8 1323.5 408.6 1323.8 380C1324.2 351.4 1324.5 323.1 1324.9 294.2C1325.2 265.4 1325.6 235.1 1325.9 206.8C1326.2 178.5 1326.7 141.6 1326.9 124.4C1327.1 107.2 1327 103.5 1327.1 103.5C1327.2 103.5 1327.1 107.2 1327.3 124.4C1327.5 141.6 1328 178.5 1328.3 206.8C1328.6 235.1 1329 265.4 1329.3 294.2C1329.7 323.1 1330 353.7 1330.4 380C1330.7 406.3 1331 436.6 1331.4 452C1331.7 467.5 1332 467.6 1332.4 472.6C1332.8 477.6 1333.3 479.5 1334 482.1C1334.6 484.6 1335.3 486.4 1336.2 488.1C1337.1 489.7 1338 491 1339.3 492C1340.6 493 1341.6 493.5 1344.1 494.1C1346.6 494.6 1351.2 495 1354.4 495.3C1357.5 495.6 1360.1 495 1363 496C1365.8 496.9 1368.7 498.9 1371.5 501.1C1374.4 503.3 1377.2 506.4 1380.1 509C1383 511.6 1385.8 514.2 1388.7 516.7C1391.5 519.2 1394.4 521.8 1397.3 524.1C1400.1 526.4 1403 528.8 1405.8 530.6C1408.7 532.4 1411.5 533.4 1414.4 534.7C1417.3 536.1 1420.1 537.7 1423 538.7C1425.8 539.7 1428.7 540.1 1431.6 540.7C1434.4 541.3 1435.8 541.7 1440.1 542.3C1444.4 542.9 1451.6 543.8 1457.3 544.3C1463 544.9 1467.3 545.2 1474.4 545.5C1481.6 545.9 1489.1 546.2 1500 546.4C1510.9 546.6 1523.3 546.4 1540 546.6C1556.7 546.8 1580 547.1 1600 547.3C1620 547.5 1640 547.8 1660 548C1680 548.2 1705 548.6 1720 548.8C1735 549 1742 549.1 1750 549.2C1758 549.3 1765 549.4 1768 549.4M1091.2 563.6C1096 563.6 1110.2 563.7 1120 563.8C1129.8 563.9 1141.9 563.9 1150 564.1C1158.1 564.3 1162.8 564.4 1168.7 565C1174.6 565.6 1180.3 566.5 1185.5 567.8C1190.7 569.1 1196.2 571.2 1200 572.6C1203.8 574 1205.7 574.9 1208.6 576.1C1211.4 577.2 1212.9 577.8 1217.2 579.5C1221.4 581.1 1228.6 583.9 1234.3 586C1240 588.1 1245.7 590.2 1251.5 592C1257.2 593.8 1262.9 595.4 1268.6 597C1274.3 598.6 1280 600 1285.8 601.6C1291.5 603.2 1297.2 604.6 1302.9 606.4C1308.6 608.2 1315.6 610.7 1320.1 612.6C1324.6 614.5 1327 617 1329.8 617.9C1332.7 618.8 1334.6 618.2 1337.2 617.9C1339.9 617.6 1342.9 616.9 1345.8 616C1348.7 615.1 1350.1 614.7 1354.4 612.6C1358.7 610.4 1367.2 605.7 1371.5 603.2C1375.8 600.6 1377.2 599 1380.1 597.2C1383 595.4 1384.4 594.2 1388.7 592.3C1393 590.5 1400.1 587.9 1405.8 586.3C1411.5 584.8 1417.3 583.8 1423 582.9C1428.7 582 1434.4 581.5 1440.1 581C1445.9 580.5 1447.3 580.3 1457.3 580C1467.3 579.7 1486.2 579.3 1500 579.1C1513.8 579 1523.3 579.1 1540 578.9C1556.7 578.7 1580 578.1 1600 577.7C1620 577.3 1643.3 576.7 1660 576.3C1676.7 575.9 1689 575.6 1700 575.2C1711 574.9 1719.7 574.5 1726 574.2C1732.3 573.9 1734.6 573.7 1738 573.2C1741.4 572.7 1744.2 571.9 1746.5 571C1748.8 570.1 1750.4 569 1752 567.8C1753.6 566.6 1754.7 565.3 1756 563.8C1757.3 562.3 1758.7 560.4 1760 558.8C1761.3 557.2 1762.7 555.5 1764 554.2C1765.3 552.9 1767.3 551.4 1768 550.8" fill="none" stroke="#0000ff" stroke-width="4.2" stroke-linejoin="round" stroke-linecap="round"/>
<path d="M1766.5 551L1768.3 539.5" fill="none" stroke="#0000ff" stroke-width="4.5" stroke-linejoin="round" stroke-linecap="round"/>
<path d="M1091.2 563.5C1096 563.5 1110.2 563.4 1120 563.4C1129.8 563.4 1140.8 563.2 1150 563.2C1159.2 563.2 1166.7 563 1175 563.2C1183.3 563.4 1191.5 564.2 1200 564.4C1208.5 564.5 1217.2 564.2 1225.7 564C1234.3 563.9 1242.9 564 1251.5 563.4C1260 562.7 1270 561.9 1277.2 560.3C1284.3 558.6 1290.1 555.8 1294.3 553.6C1298.6 551.4 1300.3 549.7 1302.9 546.9C1305.5 544.1 1307.8 541.1 1309.8 536.9C1311.8 532.7 1313.5 527.5 1314.9 521.7C1316.4 515.8 1317.2 510.5 1318.4 501.8C1319.5 493 1320.8 480.1 1321.8 469.2C1322.8 458.3 1323.6 445.8 1324.4 436.6C1325.1 427.5 1325.7 414.3 1326.4 414.3C1327.1 414.3 1327.7 429.5 1328.6 436.6C1329.6 443.8 1330.6 450.5 1332.1 457.2C1333.5 463.9 1335.5 471.6 1337.2 476.9C1338.9 482.2 1340.9 486.3 1342.4 488.9C1343.8 491.5 1344.1 491.7 1345.8 492.3C1347.5 493 1350.4 492.4 1352.7 492.5C1354.9 492.6 1357.5 492.7 1359.5 492.9C1361.5 493 1362.7 492.6 1364.7 493.6C1366.7 494.5 1369.2 497.4 1371.5 498.4C1373.8 499.3 1375.5 497 1378.4 499.4C1381.2 501.7 1385.5 508.9 1388.7 512.4C1391.8 516 1394.4 518.1 1397.3 520.7C1400.1 523.2 1403 525.8 1405.8 527.9C1408.7 529.9 1411.5 531.2 1414.4 533C1417.3 534.8 1420.1 537.4 1423 538.7C1425.8 539.9 1428.7 540.1 1431.6 540.7C1434.4 541.3 1435.8 541.7 1440.1 542.3C1444.4 542.9 1451.6 543.8 1457.3 544.3C1463 544.9 1467.3 545.2 1474.4 545.5C1481.6 545.9 1489.1 546.2 1500 546.4C1510.9 546.6 1523.3 546.4 1540 546.6C1556.7 546.8 1580 547.1 1600 547.3C1620 547.5 1640 547.8 1660 548C1680 548.2 1705 548.6 1720 548.8C1735 549 1742 549.1 1750 549.2C1758 549.3 1765 549.4 1768 549.4M1091.2 563.6C1096 563.6 1110.2 563.7 1120 563.8C1129.8 563.9 1141.9 563.9 1150 564.1C1158.1 564.3 1162.8 564.4 1168.7 565C1174.6 565.6 1180.3 566.5 1185.5 567.8C1190.7 569.1 1196.2 571.4 1200 572.8C1203.8 574.2 1205.7 575.1 1208.6 576.2C1211.4 577.4 1212.9 578 1217.2 579.7C1221.4 581.3 1228.6 584.1 1234.3 586.2C1240 588.3 1245.7 590.3 1251.5 592.2C1257.2 594 1262.9 595.7 1268.6 597.2C1274.3 598.6 1280 599.5 1285.8 600.9C1291.5 602.4 1297.2 603.9 1302.9 605.7C1308.6 607.6 1315.6 609.8 1320.1 611.9C1324.6 614 1327 617.5 1329.8 618.6C1332.7 619.7 1334.6 619.1 1337.2 618.6C1339.9 618.1 1342.9 616.4 1345.8 615.3C1348.7 614.2 1350.1 613.9 1354.4 611.9C1358.7 609.9 1367.2 605.8 1371.5 603.3C1375.8 600.9 1377.2 599.1 1380.1 597.3C1383 595.5 1384.4 594.3 1388.7 592.5C1393 590.7 1400.1 588.1 1405.8 586.5C1411.5 584.9 1417.3 584 1423 583.1C1428.7 582.2 1434.4 581.7 1440.1 581.2C1445.9 580.7 1447.3 580.5 1457.3 580.2C1467.3 579.9 1486.2 579.5 1500 579.3C1513.8 579.1 1523.3 579.2 1540 578.9C1556.7 578.6 1580 578.1 1600 577.7C1620 577.3 1643.3 576.7 1660 576.3C1676.7 575.9 1689 575.6 1700 575.2C1711 574.9 1719.7 574.5 1726 574.2C1732.3 573.9 1734.6 573.7 1738 573.2C1741.4 572.7 1744.2 571.9 1746.5 571C1748.8 570.1 1750.4 569 1752 567.8C1753.6 566.6 1754.5 564.7 1756 563.8C1757.5 562.9 1759.6 562.9 1761 562.6C1762.4 562.3 1763.3 562.2 1764.5 562C1765.7 561.8 1767.7 561.7 1768.3 561.6" fill="none" stroke="#ff0000" stroke-width="4.2" stroke-linejoin="round" stroke-linecap="round"/>
<path d="M1091.2 563.5C1096 563.5 1110.2 563.4 1120 563.4C1129.8 563.4 1140.8 563.2 1150 563.2C1159.2 563.2 1166.7 563 1175 563.2C1183.3 563.4 1191.5 564.2 1200 564.4C1208.5 564.5 1217.2 564.2 1225.7 564C1234.3 563.9 1242.9 564 1251.5 563.4C1260 562.7 1270 561.8 1277.2 560.1C1284.3 558.4 1290.1 555.5 1294.3 553.2C1298.6 551 1300.3 549.2 1302.9 546.4C1305.5 543.5 1307.8 540.4 1309.8 536.1C1311.8 531.8 1313.5 526.7 1314.9 520.7C1316.4 514.6 1317.2 509.2 1318.4 500.1C1319.5 490.9 1320.8 477.2 1321.8 465.8C1322.8 454.3 1323.6 441.7 1324.4 431.5C1325.1 421.2 1325.7 404 1326.4 404C1327.1 404 1327.7 423.2 1328.6 431.5C1329.6 439.7 1330.6 446.6 1332.1 453.8C1333.5 460.9 1335.5 468.9 1337.2 474.3C1338.9 479.8 1340.9 484.1 1342.4 486.3C1343.8 488.6 1344.7 488.5 1345.8 488.1C1346.9 487.6 1348.1 483.5 1349.2 483.8C1350.4 484.1 1350.9 488.6 1352.7 489.8C1354.4 490.9 1357.8 490.3 1359.5 490.6C1361.2 490.9 1361.8 492.2 1363 491.5C1364.1 490.8 1365.2 486.1 1366.4 486.3C1367.5 486.6 1368.1 491.2 1369.8 493.2C1371.5 495.2 1373.5 495.2 1376.7 498.4C1379.8 501.5 1385.2 508.4 1388.7 512.1C1392.1 515.7 1394.4 517.7 1397.3 520.3C1400.1 522.9 1403 525.5 1405.8 527.5C1408.7 529.6 1411.5 530.8 1414.4 532.7C1417.3 534.5 1420.1 537.3 1423 538.7C1425.8 540 1428.7 540.1 1431.6 540.7C1434.4 541.3 1435.8 541.7 1440.1 542.3C1444.4 542.9 1451.6 543.8 1457.3 544.3C1463 544.9 1467.3 545.2 1474.4 545.5C1481.6 545.9 1489.1 546.2 1500 546.4C1510.9 546.6 1523.3 546.4 1540 546.6C1556.7 546.8 1580 547.1 1600 547.3C1620 547.5 1640 547.8 1660 548C1680 548.2 1705 548.6 1720 548.8C1735 549 1742 549.1 1750 549.2C1758 549.3 1765 549.4 1768 549.4M1091.2 563.6C1096 563.6 1110.2 563.7 1120 563.8C1129.8 563.9 1141.9 563.9 1150 564.1C1158.1 564.3 1162.8 564.4 1168.7 565C1174.6 565.6 1180.3 566.6 1185.5 567.8C1190.7 569 1196.2 571.3 1200 572.5C1203.8 573.6 1205.7 573.7 1208.6 574.7C1211.4 575.6 1212.9 576.5 1217.2 578.1C1221.4 579.8 1228.6 582.5 1234.3 584.6C1240 586.7 1245.7 588.8 1251.5 590.6C1257.2 592.5 1262.9 593.9 1268.6 595.6C1274.3 597.4 1280 599.5 1285.8 601.1C1291.5 602.7 1297.2 603.6 1302.9 605.4C1308.6 607.1 1315.6 609.6 1320.1 611.6C1324.6 613.5 1327 616 1329.8 616.9C1332.7 617.8 1334.6 617.2 1337.2 616.9C1339.9 616.6 1342.9 615.9 1345.8 615C1348.7 614.1 1350.1 613.6 1354.4 611.6C1358.7 609.6 1367.2 605.4 1371.5 603C1375.8 600.6 1377.2 598.8 1380.1 597C1383 595.2 1384.4 594 1388.7 592.2C1393 590.4 1400.1 587.7 1405.8 586.2C1411.5 584.6 1417.3 583.6 1423 582.7C1428.7 581.9 1434.4 581.3 1440.1 580.9C1445.9 580.4 1447.3 580.1 1457.3 579.8C1467.3 579.5 1486.2 579.1 1500 579C1513.8 578.8 1523.3 579.1 1540 578.9C1556.7 578.7 1580 578.1 1600 577.7C1620 577.3 1643.3 576.7 1660 576.3C1676.7 575.9 1689 575.6 1700 575.2C1711 574.9 1719.7 574.5 1726 574.2C1732.3 573.9 1734.6 573.7 1738 573.2C1741.4 572.7 1744.2 571.9 1746.5 571C1748.8 570.1 1750.4 569 1752 567.8C1753.6 566.6 1754.7 565.3 1756 563.8C1757.3 562.3 1758.7 560.4 1760 558.8C1761.3 557.2 1762.7 555.5 1764 554.2C1765.3 552.9 1767.3 551.4 1768 550.8" fill="none" stroke="#ff6600" stroke-width="4.2" stroke-linejoin="round" stroke-linecap="round"/>
<path d="M1091.2 563.5C1096 563.5 1110.2 563.4 1120 563.4C1129.8 563.4 1140.8 563.2 1150 563.2C1159.2 563.2 1166.7 563.1 1175 563.2C1183.3 563.3 1193 563.9 1200 563.9C1207 563.8 1211.4 563.5 1217.2 562.8C1222.9 562.2 1228.6 561.4 1234.3 560.1C1240 558.8 1245.7 556.8 1251.5 555C1257.2 553.1 1264.3 551.1 1268.6 549C1272.9 546.8 1274.3 545.7 1277.2 542.1C1280 538.5 1282.9 531.7 1285.8 527.5C1288.6 523.4 1291.5 521.2 1294.3 517.2C1297.2 513.2 1300.3 507.2 1302.9 503.5C1305.5 499.8 1307.5 496.8 1309.8 494.9C1312.1 493.1 1314.9 492.5 1316.6 492.3C1318.4 492.2 1318.7 495.1 1320.1 494.1C1321.4 493.1 1323.4 486.5 1324.9 486.3C1326.3 486.2 1327.2 492.5 1328.6 493.2C1330.1 493.9 1332.1 489.8 1333.8 490.6C1335.5 491.5 1336.9 497.4 1338.9 498.4C1340.9 499.4 1343.5 497.2 1345.8 496.6C1348.1 496.1 1349.8 495.4 1352.7 495.3C1355.5 495.1 1359.8 494.8 1363 495.8C1366.1 496.7 1368.7 498.8 1371.5 500.9C1374.4 503.1 1377.2 506.1 1380.1 508.6C1383 511.2 1385.8 513.8 1388.7 516.4C1391.5 518.9 1394.4 521.4 1397.3 523.7C1400.1 526.1 1403 528.5 1405.8 530.3C1408.7 532 1411.5 533 1414.4 534.4C1417.3 535.8 1420.1 537.6 1423 538.7C1425.8 539.7 1428.7 540.1 1431.6 540.7C1434.4 541.3 1435.8 541.7 1440.1 542.3C1444.4 542.9 1451.6 543.8 1457.3 544.3C1463 544.9 1467.3 545.2 1474.4 545.5C1481.6 545.9 1489.1 546.2 1500 546.4C1510.9 546.6 1523.3 546.4 1540 546.6C1556.7 546.8 1580 547.1 1600 547.3C1620 547.5 1640 547.8 1660 548C1680 548.2 1705 548.6 1720 548.8C1735 549 1742 549.1 1750 549.2C1758 549.3 1765 549.4 1768 549.4M1091.2 563.6C1096 563.6 1110.2 563.7 1120 563.8C1129.8 563.9 1141.9 563.9 1150 564.1C1158.1 564.3 1162.8 564.4 1168.7 565C1174.6 565.6 1180.3 566.6 1185.5 567.8C1190.7 569 1196.2 571.1 1200 572.5C1203.8 573.8 1205.7 574.7 1208.6 575.9C1211.4 577 1212.9 577.7 1217.2 579.3C1221.4 581 1228.6 583.7 1234.3 585.8C1240 587.9 1245.7 590 1251.5 591.8C1257.2 593.7 1262.9 595.4 1268.6 596.8C1274.3 598.3 1280 599.2 1285.8 600.6C1291.5 602 1297.2 603.6 1302.9 605.4C1308.6 607.2 1315.6 609.6 1320.1 611.6C1324.6 613.5 1327 616 1329.8 616.9C1332.7 617.8 1334.6 617.2 1337.2 616.9C1339.9 616.6 1342.9 615.9 1345.8 615C1348.7 614.1 1350.1 613.3 1354.4 611.6C1358.7 609.8 1367.2 606.6 1371.5 604.4C1375.8 602.2 1377.2 600.2 1380.1 598.4C1383 596.6 1384.4 595.6 1388.7 593.6C1393 591.5 1400.1 588 1405.8 586.2C1411.5 584.4 1417.3 583.6 1423 582.7C1428.7 581.9 1434.4 581.3 1440.1 580.9C1445.9 580.4 1447.3 580.1 1457.3 579.8C1467.3 579.5 1486.2 579.1 1500 579C1513.8 578.8 1523.3 579.1 1540 578.9C1556.7 578.7 1580 578.1 1600 577.7C1620 577.3 1643.3 576.7 1660 576.3C1676.7 575.9 1689 575.6 1700 575.2C1711 574.9 1719.7 574.5 1726 574.2C1732.3 573.9 1734.6 573.7 1738 573.2C1741.4 572.7 1744.2 571.9 1746.5 571C1748.8 570.1 1750.4 569 1752 567.8C1753.6 566.6 1754.7 565.3 1756 563.8C1757.3 562.3 1758.7 560.4 1760 558.8C1761.3 557.2 1762.7 555.5 1764 554.2C1765.3 552.9 1767.3 551.4 1768 550.8" fill="none" stroke="#0a9a3a" stroke-width="4.2" stroke-linejoin="round" stroke-linecap="round"/>
<path d="M1091.2 563.5C1096 563.5 1110.2 563.4 1120 563.4C1129.8 563.4 1140.8 563.2 1150 563.2C1159.2 563.2 1166.7 563.1 1175 563.2C1183.3 563.3 1193 563.9 1200 563.7C1207 563.5 1211.4 562.9 1217.2 562C1222.9 561.1 1229.7 559.6 1234.3 558.4C1238.9 557.2 1241.7 555.8 1244.6 554.6C1247.5 553.4 1248.9 552.9 1251.5 551.2C1254 549.5 1257.2 547.1 1260 544.3C1262.9 541.5 1265.8 537.9 1268.6 534.4C1271.5 530.9 1274.3 526.4 1277.2 523.4C1280 520.4 1283.2 518.4 1285.8 516.5C1288.3 514.6 1289.8 513 1292.6 512.1C1295.5 511.2 1299.8 511.8 1302.9 511.2C1306.1 510.6 1309.2 508.5 1311.5 508.6C1313.8 508.8 1314.6 512.1 1316.6 512.1C1318.6 512.1 1320.6 509.6 1323.5 508.6C1326.4 507.6 1330.6 507.4 1333.8 506.1C1336.9 504.8 1340.1 501.5 1342.4 500.9C1344.7 500.4 1345.7 503.5 1347.5 502.6C1349.4 501.8 1351.5 496.4 1353.5 495.8C1355.5 495.2 1357.7 498.8 1359.5 499.2C1361.4 499.6 1362.7 497.6 1364.7 498.4C1366.7 499.1 1369 501.5 1371.5 503.5C1374.1 505.5 1377.2 508.1 1380.1 510.4C1383 512.6 1385.8 514.9 1388.7 517.2C1391.5 519.5 1394.4 521.8 1397.3 524.1C1400.1 526.4 1403 529.2 1405.8 530.9C1408.7 532.7 1411.5 533.1 1414.4 534.4C1417.3 535.7 1420.1 537.6 1423 538.7C1425.8 539.7 1428.7 540.1 1431.6 540.7C1434.4 541.3 1435.8 541.7 1440.1 542.3C1444.4 542.9 1451.6 543.8 1457.3 544.3C1463 544.9 1467.3 545.2 1474.4 545.5C1481.6 545.9 1489.1 546.2 1500 546.4C1510.9 546.6 1523.3 546.4 1540 546.6C1556.7 546.8 1580 547.1 1600 547.3C1620 547.5 1640 547.8 1660 548C1680 548.2 1705 548.6 1720 548.8C1735 549 1742 549.1 1750 549.2C1758 549.3 1765 549.4 1768 549.4M1091.2 563.6C1096 563.6 1110.2 563.7 1120 563.8C1129.8 563.9 1141.9 563.9 1150 564.1C1158.1 564.3 1162.8 564.4 1168.7 565C1174.6 565.6 1180.3 566.6 1185.5 567.8C1190.7 569 1196.2 571.1 1200 572.5C1203.8 573.8 1205.7 574.7 1208.6 575.9C1211.4 577 1212.9 577.7 1217.2 579.3C1221.4 581 1228.6 583.7 1234.3 585.8C1240 587.9 1245.7 590 1251.5 591.8C1257.2 593.7 1262.9 595.4 1268.6 596.8C1274.3 598.3 1280 599.2 1285.8 600.6C1291.5 602 1297.2 603.6 1302.9 605.4C1308.6 607.2 1315.6 609.6 1320.1 611.6C1324.6 613.5 1327 616 1329.8 616.9C1332.7 617.8 1334.6 617.2 1337.2 616.9C1339.9 616.6 1342.9 615.9 1345.8 615C1348.7 614.1 1350.1 613.6 1354.4 611.6C1358.7 609.6 1367.2 605.4 1371.5 603C1375.8 600.6 1377.2 598.8 1380.1 597C1383 595.2 1384.4 594 1388.7 592.2C1393 590.4 1400.1 587.7 1405.8 586.2C1411.5 584.6 1417.3 583.6 1423 582.7C1428.7 581.9 1434.4 581.3 1440.1 580.9C1445.9 580.4 1447.3 580.1 1457.3 579.8C1467.3 579.5 1486.2 579.1 1500 579C1513.8 578.8 1523.3 579.1 1540 578.9C1556.7 578.7 1580 578.1 1600 577.7C1620 577.3 1643.3 576.7 1660 576.3C1676.7 575.9 1689 575.6 1700 575.2C1711 574.9 1719.7 574.5 1726 574.2C1732.3 573.9 1734.6 573.7 1738 573.2C1741.4 572.7 1744.2 571.9 1746.5 571C1748.8 570.1 1750.4 569 1752 567.8C1753.6 566.6 1754.7 565.3 1756 563.8C1757.3 562.3 1758.7 560.4 1760 558.8C1761.3 557.2 1762.7 555.5 1764 554.2C1765.3 552.9 1767.3 551.4 1768 550.8" fill="none" stroke="#c8693a" stroke-width="4.2" stroke-linejoin="round" stroke-linecap="round"/>
</g>
<path d="M1460.1 184.7H1522.9" stroke="#000000" stroke-width="4" stroke-linecap="round"/>
<text x="1534.7" y="194.8" font-size="30.9" text-anchor="start">DPM</text>
<path d="M1460.1 225.5H1522.9" stroke="#0000ff" stroke-width="4" stroke-linecap="round"/>
<text x="1534.7" y="235.6" font-size="30.9" text-anchor="start">1 hour</text>
<path d="M1460.1 265.7H1522.9" stroke="#ff0000" stroke-width="4" stroke-linecap="round"/>
<text x="1534.7" y="275.8" font-size="30.9" text-anchor="start">2 hours</text>
<path d="M1460.1 306.3H1522.9" stroke="#ff6600" stroke-width="4" stroke-linecap="round"/>
<text x="1534.7" y="316.4" font-size="30.9" text-anchor="start">3 hours</text>
<path d="M1460.1 346.9H1522.9" stroke="#0a9a3a" stroke-width="4" stroke-linecap="round"/>
<text x="1534.7" y="357" font-size="30.9" text-anchor="start">5 hours</text>
<path d="M1460.1 387.6H1522.9" stroke="#c8693a" stroke-width="4" stroke-linecap="round"/>
<text x="1534.7" y="397.7" font-size="30.9" text-anchor="start">12 hours</text>
<text x="1429.6" y="744.1" font-size="40.6" text-anchor="middle">Potential (V vs Li)</text>
<text x="976" y="377.8" font-size="40.3" text-anchor="middle" transform="rotate(-90 976 377.8)">Differential Capacity (mAh/V/g)</text>
<rect x="110.8" y="858.2" width="680.5" height="566.4" fill="none" stroke="#000" stroke-width="3.6"/>
<path d="M791.3 1289.5H780.5M791.3 1154.4H780.5M791.3 1019.4H780.5M791.3 884.3H780.5" stroke="#000" stroke-width="3.0" stroke-linecap="round" fill="none"/>
<path d="M791.3 1357.1H786M791.3 1222H786M791.3 1086.9H786M791.3 951.8H786" stroke="#000" stroke-width="3.0" stroke-linecap="round" fill="none"/>
<path d="M179.1 1424.6V1413.8M247.1 1424.6V1413.8M315.1 1424.6V1413.8M383.1 1424.6V1413.8M451.1 1424.6V1413.8M519.2 1424.6V1413.8M587.2 1424.6V1413.8M655.2 1424.6V1413.8M723.2 1424.6V1413.8" stroke="#000" stroke-width="3.0" stroke-linecap="round" fill="none"/>
<path d="M145.1 1424.6V1419.3M213.1 1424.6V1419.3M281.1 1424.6V1419.3M349.1 1424.6V1419.3M417.1 1424.6V1419.3M485.2 1424.6V1419.3M553.2 1424.6V1419.3M621.2 1424.6V1419.3M689.2 1424.6V1419.3M757.2 1424.6V1419.3" stroke="#000" stroke-width="3.0" stroke-linecap="round" fill="none"/>
<path d="M179.1 858.2V869M247.1 858.2V869M315.1 858.2V869M383.1 858.2V869M451.1 858.2V869M519.2 858.2V869M587.2 858.2V869M655.2 858.2V869M723.2 858.2V869" stroke="#000" stroke-width="3.0" stroke-linecap="round" fill="none"/>
<path d="M145.1 858.2V863.5M213.1 858.2V863.5M281.1 858.2V863.5M349.1 858.2V863.5M417.1 858.2V863.5M485.2 858.2V863.5M553.2 858.2V863.5M621.2 858.2V863.5M689.2 858.2V863.5M757.2 858.2V863.5" stroke="#000" stroke-width="3.0" stroke-linecap="round" fill="none"/>
<path d="M110.8 1368H121.6M110.8 1311.3H121.6M110.8 1254.7H121.6M110.8 1198H121.6M110.8 1141.4H121.6M110.8 1084.8H121.6M110.8 1028.1H121.6M110.8 971.5H121.6M110.8 914.8H121.6" stroke="#000" stroke-width="3.0" stroke-linecap="round" fill="none"/>
<path d="M110.8 1396.3H116.1M110.8 1339.6H116.1M110.8 1283H116.1M110.8 1226.4H116.1M110.8 1169.7H116.1M110.8 1113.1H116.1M110.8 1056.4H116.1M110.8 999.8H116.1M110.8 943.2H116.1M110.8 886.5H116.1" stroke="#000" stroke-width="3.0" stroke-linecap="round" fill="none"/>
<text x="111.1" y="1466.1" font-size="34.2" text-anchor="middle">0</text>
<text x="179.1" y="1466.1" font-size="34.2" text-anchor="middle">10</text>
<text x="247.1" y="1466.1" font-size="34.2" text-anchor="middle">20</text>
<text x="315.1" y="1466.1" font-size="34.2" text-anchor="middle">30</text>
<text x="383.1" y="1466.1" font-size="34.2" text-anchor="middle">40</text>
<text x="451.1" y="1466.1" font-size="34.2" text-anchor="middle">50</text>
<text x="519.2" y="1466.1" font-size="34.2" text-anchor="middle">60</text>
<text x="587.2" y="1466.1" font-size="34.2" text-anchor="middle">70</text>
<text x="655.2" y="1466.1" font-size="34.2" text-anchor="middle">80</text>
<text x="723.2" y="1466.1" font-size="34.2" text-anchor="middle">90</text>
<text x="791.2" y="1466.1" font-size="34.2" text-anchor="middle">100</text>
<text x="99.2" y="1436.8" font-size="34.2" text-anchor="end">0</text>
<text x="99.2" y="1380.2" font-size="34.2" text-anchor="end">20</text>
<text x="99.2" y="1323.5" font-size="34.2" text-anchor="end">40</text>
<text x="99.2" y="1266.9" font-size="34.2" text-anchor="end">60</text>
<text x="99.2" y="1210.2" font-size="34.2" text-anchor="end">80</text>
<text x="99.2" y="1153.6" font-size="34.2" text-anchor="end">100</text>
<text x="99.2" y="1097" font-size="34.2" text-anchor="end">120</text>
<text x="99.2" y="1040.3" font-size="34.2" text-anchor="end">140</text>
<text x="99.2" y="983.7" font-size="34.2" text-anchor="end">160</text>
<text x="99.2" y="927" font-size="34.2" text-anchor="end">180</text>
<text x="99.2" y="870.4" font-size="34.2" text-anchor="end">200</text>
<g>
<path d="M109.4 935.2h17l-8.5 14.7zM116.2 971.5h17l-8.5 14.7zM123 973h17l-8.5 14.7zM129.8 974.4h17l-8.5 14.7zM136.6 975.9h17l-8.5 14.7zM143.4 977.3h17l-8.5 14.7zM150.2 978.8h17l-8.5 14.7zM157 980.2h17l-8.5 14.7zM163.8 981.7h17l-8.5 14.7zM170.6 983.1h17l-8.5 14.7zM177.4 984.6h17l-8.5 14.7zM184.2 986.2h17l-8.5 14.7zM191 987.4h17l-8.5 14.7zM197.8 988.2h17l-8.5 14.7zM204.6 989.1h17l-8.5 14.7zM211.4 989.8h17l-8.5 14.7zM218.2 990.5h17l-8.5 14.7zM225 991.2h17l-8.5 14.7zM231.8 991.8h17l-8.5 14.7zM238.6 992.4h17l-8.5 14.7zM245.4 993h17l-8.5 14.7zM252.2 993.5h17l-8.5 14.7zM259 994h17l-8.5 14.7zM265.8 994.5h17l-8.5 14.7zM272.6 994.9h17l-8.5 14.7zM279.4 995.4h17l-8.5 14.7zM286.2 995.9h17l-8.5 14.7zM293 996.3h17l-8.5 14.7zM299.8 996.8h17l-8.5 14.7zM306.6 997.3h17l-8.5 14.7zM313.4 997.7h17l-8.5 14.7zM320.2 998.2h17l-8.5 14.7zM327 998.7h17l-8.5 14.7zM333.8 999.1h17l-8.5 14.7zM340.6 999.6h17l-8.5 14.7zM347.4 1000h17l-8.5 14.7zM354.2 1000.5h17l-8.5 14.7zM361 1000.9h17l-8.5 14.7zM367.8 1001.3h17l-8.5 14.7zM374.6 1001.7h17l-8.5 14.7zM381.4 1002.1h17l-8.5 14.7zM388.2 1002.5h17l-8.5 14.7zM395 1002.9h17l-8.5 14.7zM401.8 1003.3h17l-8.5 14.7zM408.6 1003.7h17l-8.5 14.7zM415.4 1004.1h17l-8.5 14.7zM422.2 1004.5h17l-8.5 14.7zM429 1004.9h17l-8.5 14.7zM435.8 1005.2h17l-8.5 14.7zM442.6 1005.6h17l-8.5 14.7zM449.5 1006h17l-8.5 14.7zM456.3 1006.4h17l-8.5 14.7zM463.1 1006.8h17l-8.5 14.7zM469.9 1007.2h17l-8.5 14.7zM476.7 1007.5h17l-8.5 14.7zM483.5 1007.9h17l-8.5 14.7zM490.3 1008.3h17l-8.5 14.7zM497.1 1008.7h17l-8.5 14.7zM503.9 1009.1h17l-8.5 14.7zM510.7 1009.5h17l-8.5 14.7zM517.5 1009.8h17l-8.5 14.7zM524.3 1010.2h17l-8.5 14.7zM531.1 1010.6h17l-8.5 14.7zM537.9 1011h17l-8.5 14.7zM544.7 1011.3h17l-8.5 14.7zM551.5 1011.7h17l-8.5 14.7zM558.3 1012.1h17l-8.5 14.7zM565.1 1012.4h17l-8.5 14.7zM571.9 1012.8h17l-8.5 14.7zM578.7 1013.2h17l-8.5 14.7zM585.5 1013.5h17l-8.5 14.7zM592.3 1013.9h17l-8.5 14.7zM599.1 1014.3h17l-8.5 14.7zM605.9 1014.6h17l-8.5 14.7zM612.7 1015h17l-8.5 14.7zM619.5 1015.4h17l-8.5 14.7zM626.3 1015.7h17l-8.5 14.7zM633.1 1016.1h17l-8.5 14.7zM639.9 1016.4h17l-8.5 14.7zM646.7 1016.8h17l-8.5 14.7zM653.5 1017.2h17l-8.5 14.7zM660.3 1017.5h17l-8.5 14.7zM667.1 1017.9h17l-8.5 14.7zM673.9 1018.2h17l-8.5 14.7zM680.7 1018.6h17l-8.5 14.7zM687.5 1019h17l-8.5 14.7zM694.3 1019.3h17l-8.5 14.7zM701.1 1019.7h17l-8.5 14.7zM707.9 1020h17l-8.5 14.7zM714.7 1020.4h17l-8.5 14.7zM721.5 1020.7h17l-8.5 14.7zM728.3 1021.1h17l-8.5 14.7zM735.1 1021.4h17l-8.5 14.7zM741.9 1021.8h17l-8.5 14.7zM748.7 1022.1h17l-8.5 14.7zM755.5 1022.5h17l-8.5 14.7zM762.3 1022.8h17l-8.5 14.7zM769.1 1023.2h17l-8.5 14.7zM775.9 1023.5h17l-8.5 14.7zM782.7 1023.9h17l-8.5 14.7z" fill="#000000"/>
<path d="M109.4 936.1h17l-8.5 14.7zM116.2 970.4h17l-8.5 14.7zM123 971.4h17l-8.5 14.7zM129.8 972.5h17l-8.5 14.7zM136.6 973.6h17l-8.5 14.7zM143.4 974.6h17l-8.5 14.7zM150.2 975.5h17l-8.5 14.7zM157 976.5h17l-8.5 14.7zM163.8 977.4h17l-8.5 14.7zM170.6 978.2h17l-8.5 14.7zM177.4 979h17l-8.5 14.7zM184.2 979.6h17l-8.5 14.7zM191 980.3h17l-8.5 14.7zM197.8 980.8h17l-8.5 14.7zM204.6 981.4h17l-8.5 14.7zM211.4 981.9h17l-8.5 14.7zM218.2 982.4h17l-8.5 14.7zM225 982.8h17l-8.5 14.7zM231.8 983.3h17l-8.5 14.7zM238.6 983.7h17l-8.5 14.7zM245.4 984.1h17l-8.5 14.7zM252.2 984.5h17l-8.5 14.7zM259 984.9h17l-8.5 14.7zM265.8 985.3h17l-8.5 14.7zM272.6 985.6h17l-8.5 14.7zM279.4 986h17l-8.5 14.7zM286.2 986.3h17l-8.5 14.7zM293 986.7h17l-8.5 14.7zM299.8 987h17l-8.5 14.7zM306.6 987.4h17l-8.5 14.7zM313.4 987.7h17l-8.5 14.7zM320.2 988h17l-8.5 14.7zM327 988.3h17l-8.5 14.7zM333.8 988.6h17l-8.5 14.7zM340.6 988.9h17l-8.5 14.7zM347.4 989.1h17l-8.5 14.7zM354.2 989.4h17l-8.5 14.7zM361 989.6h17l-8.5 14.7zM367.8 989.9h17l-8.5 14.7zM374.6 990.1h17l-8.5 14.7zM381.4 990.3h17l-8.5 14.7zM388.2 990.6h17l-8.5 14.7zM395 990.8h17l-8.5 14.7zM401.8 991h17l-8.5 14.7zM408.6 991.3h17l-8.5 14.7zM415.4 991.5h17l-8.5 14.7zM422.2 991.8h17l-8.5 14.7zM429 992h17l-8.5 14.7zM435.8 992.3h17l-8.5 14.7zM442.6 992.6h17l-8.5 14.7zM449.5 992.9h17l-8.5 14.7zM456.3 993.3h17l-8.5 14.7zM463.1 993.6h17l-8.5 14.7zM469.9 994h17l-8.5 14.7zM476.7 994.4h17l-8.5 14.7zM483.5 994.8h17l-8.5 14.7zM490.3 995.3h17l-8.5 14.7zM497.1 995.8h17l-8.5 14.7zM503.9 996.6h17l-8.5 14.7zM510.7 997.4h17l-8.5 14.7zM517.5 998.3h17l-8.5 14.7zM524.3 999.3h17l-8.5 14.7zM531.1 1000.2h17l-8.5 14.7zM537.9 1001.1h17l-8.5 14.7zM544.7 1001.9h17l-8.5 14.7zM551.5 1002.6h17l-8.5 14.7zM558.3 1003.2h17l-8.5 14.7zM565.1 1003.8h17l-8.5 14.7zM571.9 1004.3h17l-8.5 14.7zM578.7 1004.9h17l-8.5 14.7zM585.5 1005.3h17l-8.5 14.7zM592.3 1005.8h17l-8.5 14.7zM599.1 1006.3h17l-8.5 14.7zM605.9 1006.7h17l-8.5 14.7zM612.7 1007.1h17l-8.5 14.7zM619.5 1007.6h17l-8.5 14.7zM626.3 1008h17l-8.5 14.7zM633.1 1008.5h17l-8.5 14.7zM639.9 1009h17l-8.5 14.7zM646.7 1009.4h17l-8.5 14.7zM653.5 1009.9h17l-8.5 14.7zM660.3 1010.4h17l-8.5 14.7zM667.1 1010.9h17l-8.5 14.7zM673.9 1011.4h17l-8.5 14.7zM680.7 1011.9h17l-8.5 14.7zM687.5 1012.4h17l-8.5 14.7zM694.3 1012.9h17l-8.5 14.7zM701.1 1013.5h17l-8.5 14.7zM707.9 1014h17l-8.5 14.7zM714.7 1014.5h17l-8.5 14.7zM721.5 1015h17l-8.5 14.7zM728.3 1015.5h17l-8.5 14.7zM735.1 1016h17l-8.5 14.7zM741.9 1016.5h17l-8.5 14.7zM748.7 1017h17l-8.5 14.7zM755.5 1017.6h17l-8.5 14.7zM762.3 1018.1h17l-8.5 14.7zM769.1 1018.6h17l-8.5 14.7zM775.9 1019.1h17l-8.5 14.7zM782.7 1019.6h17l-8.5 14.7z" fill="#0000ff"/>
<path d="M109.4 934.1h17l-8.5 14.7zM116.2 962.7h17l-8.5 14.7zM123 963.6h17l-8.5 14.7zM129.8 964.5h17l-8.5 14.7zM136.6 965.3h17l-8.5 14.7zM143.4 966.1h17l-8.5 14.7zM150.2 966.9h17l-8.5 14.7zM157 967.7h17l-8.5 14.7zM163.8 968.4h17l-8.5 14.7zM170.6 969.1h17l-8.5 14.7zM177.4 969.8h17l-8.5 14.7zM184.2 970.4h17l-8.5 14.7zM191 970.9h17l-8.5 14.7zM197.8 971.4h17l-8.5 14.7zM204.6 971.9h17l-8.5 14.7zM211.4 972.4h17l-8.5 14.7zM218.2 972.9h17l-8.5 14.7zM225 973.3h17l-8.5 14.7zM231.8 973.8h17l-8.5 14.7zM238.6 974.2h17l-8.5 14.7zM245.4 974.6h17l-8.5 14.7zM252.2 974.9h17l-8.5 14.7zM259 975.3h17l-8.5 14.7zM265.8 975.7h17l-8.5 14.7zM272.6 976h17l-8.5 14.7zM279.4 976.4h17l-8.5 14.7zM286.2 976.7h17l-8.5 14.7zM293 977.1h17l-8.5 14.7zM299.8 977.4h17l-8.5 14.7zM306.6 977.7h17l-8.5 14.7zM313.4 978h17l-8.5 14.7zM320.2 978.4h17l-8.5 14.7zM327 978.7h17l-8.5 14.7zM333.8 979h17l-8.5 14.7zM340.6 979.2h17l-8.5 14.7zM347.4 979.5h17l-8.5 14.7zM354.2 979.8h17l-8.5 14.7zM361 980h17l-8.5 14.7zM367.8 980.3h17l-8.5 14.7zM374.6 980.6h17l-8.5 14.7zM381.4 980.8h17l-8.5 14.7zM388.2 981h17l-8.5 14.7zM395 981.3h17l-8.5 14.7zM401.8 981.5h17l-8.5 14.7zM408.6 981.8h17l-8.5 14.7zM415.4 982h17l-8.5 14.7zM422.2 982.3h17l-8.5 14.7zM429 982.5h17l-8.5 14.7zM435.8 982.8h17l-8.5 14.7zM442.6 983.1h17l-8.5 14.7zM449.5 983.3h17l-8.5 14.7zM456.3 983.6h17l-8.5 14.7zM463.1 983.9h17l-8.5 14.7zM469.9 984.2h17l-8.5 14.7zM476.7 984.5h17l-8.5 14.7zM483.5 984.8h17l-8.5 14.7zM490.3 985.1h17l-8.5 14.7zM497.1 985.4h17l-8.5 14.7zM503.9 985.8h17l-8.5 14.7zM510.7 986.1h17l-8.5 14.7zM517.5 986.5h17l-8.5 14.7zM524.3 986.9h17l-8.5 14.7zM531.1 987.3h17l-8.5 14.7zM537.9 987.7h17l-8.5 14.7zM544.7 988.1h17l-8.5 14.7zM551.5 988.5h17l-8.5 14.7zM558.3 988.9h17l-8.5 14.7zM565.1 989.4h17l-8.5 14.7zM571.9 989.8h17l-8.5 14.7zM578.7 990.3h17l-8.5 14.7zM585.5 990.8h17l-8.5 14.7zM592.3 991.2h17l-8.5 14.7zM599.1 991.7h17l-8.5 14.7zM605.9 992.2h17l-8.5 14.7zM612.7 992.7h17l-8.5 14.7zM619.5 993.2h17l-8.5 14.7zM626.3 993.7h17l-8.5 14.7zM633.1 994.3h17l-8.5 14.7zM639.9 994.8h17l-8.5 14.7zM646.7 995.3h17l-8.5 14.7zM653.5 995.8h17l-8.5 14.7zM660.3 996.3h17l-8.5 14.7zM667.1 996.8h17l-8.5 14.7zM673.9 997.3h17l-8.5 14.7zM680.7 997.9h17l-8.5 14.7zM687.5 998.4h17l-8.5 14.7zM694.3 998.9h17l-8.5 14.7zM701.1 999.4h17l-8.5 14.7zM707.9 1000h17l-8.5 14.7zM714.7 1000.5h17l-8.5 14.7zM721.5 1001.1h17l-8.5 14.7zM728.3 1001.6h17l-8.5 14.7zM735.1 1002.1h17l-8.5 14.7zM741.9 1002.7h17l-8.5 14.7zM748.7 1003.2h17l-8.5 14.7zM755.5 1003.8h17l-8.5 14.7zM762.3 1004.4h17l-8.5 14.7zM769.1 1004.9h17l-8.5 14.7zM775.9 1005.5h17l-8.5 14.7zM782.7 1006h17l-8.5 14.7z" fill="#ff0000"/>
<path d="M109.4 940.3h17l-8.5 14.7zM116.2 969.2h17l-8.5 14.7zM123 970.1h17l-8.5 14.7zM129.8 970.9h17l-8.5 14.7zM136.6 971.7h17l-8.5 14.7zM143.4 972.4h17l-8.5 14.7zM150.2 973.2h17l-8.5 14.7zM157 973.9h17l-8.5 14.7zM163.8 974.6h17l-8.5 14.7zM170.6 975.2h17l-8.5 14.7zM177.4 975.8h17l-8.5 14.7zM184.2 976.4h17l-8.5 14.7zM191 976.9h17l-8.5 14.7zM197.8 977.3h17l-8.5 14.7zM204.6 977.8h17l-8.5 14.7zM211.4 978.2h17l-8.5 14.7zM218.2 978.6h17l-8.5 14.7zM225 979h17l-8.5 14.7zM231.8 979.4h17l-8.5 14.7zM238.6 979.7h17l-8.5 14.7zM245.4 980.1h17l-8.5 14.7zM252.2 980.4h17l-8.5 14.7zM259 980.7h17l-8.5 14.7zM265.8 981h17l-8.5 14.7zM272.6 981.4h17l-8.5 14.7zM279.4 981.7h17l-8.5 14.7zM286.2 981.9h17l-8.5 14.7zM293 982.2h17l-8.5 14.7zM299.8 982.5h17l-8.5 14.7zM306.6 982.8h17l-8.5 14.7zM313.4 983.1h17l-8.5 14.7zM320.2 983.4h17l-8.5 14.7zM327 983.7h17l-8.5 14.7zM333.8 983.9h17l-8.5 14.7zM340.6 984.2h17l-8.5 14.7zM347.4 984.4h17l-8.5 14.7zM354.2 984.7h17l-8.5 14.7zM361 984.9h17l-8.5 14.7zM367.8 985.1h17l-8.5 14.7zM374.6 985.4h17l-8.5 14.7zM381.4 985.6h17l-8.5 14.7zM388.2 985.8h17l-8.5 14.7zM395 986.1h17l-8.5 14.7zM401.8 986.3h17l-8.5 14.7zM408.6 986.5h17l-8.5 14.7zM415.4 986.7h17l-8.5 14.7zM422.2 986.9h17l-8.5 14.7zM429 987.2h17l-8.5 14.7zM435.8 987.4h17l-8.5 14.7zM442.6 987.6h17l-8.5 14.7zM449.5 987.9h17l-8.5 14.7zM456.3 988.1h17l-8.5 14.7zM463.1 988.3h17l-8.5 14.7zM469.9 988.6h17l-8.5 14.7zM476.7 988.8h17l-8.5 14.7zM483.5 989.1h17l-8.5 14.7zM490.3 989.3h17l-8.5 14.7zM497.1 989.6h17l-8.5 14.7zM503.9 989.9h17l-8.5 14.7zM510.7 990.2h17l-8.5 14.7zM517.5 990.4h17l-8.5 14.7zM524.3 990.7h17l-8.5 14.7zM531.1 991h17l-8.5 14.7zM537.9 991.3h17l-8.5 14.7zM544.7 991.6h17l-8.5 14.7zM551.5 991.9h17l-8.5 14.7zM558.3 992.2h17l-8.5 14.7zM565.1 992.4h17l-8.5 14.7zM571.9 992.7h17l-8.5 14.7zM578.7 993h17l-8.5 14.7zM585.5 993.3h17l-8.5 14.7zM592.3 993.5h17l-8.5 14.7zM599.1 993.8h17l-8.5 14.7zM605.9 994.1h17l-8.5 14.7zM612.7 994.4h17l-8.5 14.7zM619.5 994.7h17l-8.5 14.7zM626.3 995h17l-8.5 14.7zM633.1 995.2h17l-8.5 14.7zM639.9 995.5h17l-8.5 14.7zM646.7 995.8h17l-8.5 14.7zM653.5 996.2h17l-8.5 14.7zM660.3 996.5h17l-8.5 14.7zM667.1 996.8h17l-8.5 14.7zM673.9 997.1h17l-8.5 14.7zM680.7 997.4h17l-8.5 14.7zM687.5 997.7h17l-8.5 14.7zM694.3 998.1h17l-8.5 14.7zM701.1 998.4h17l-8.5 14.7zM707.9 998.7h17l-8.5 14.7zM714.7 999.1h17l-8.5 14.7zM721.5 999.4h17l-8.5 14.7zM728.3 999.8h17l-8.5 14.7zM735.1 1000.1h17l-8.5 14.7zM741.9 1000.5h17l-8.5 14.7zM748.7 1000.8h17l-8.5 14.7zM755.5 1001.2h17l-8.5 14.7zM762.3 1001.5h17l-8.5 14.7zM769.1 1001.9h17l-8.5 14.7zM775.9 1002.3h17l-8.5 14.7zM782.7 1002.6h17l-8.5 14.7z" fill="#ff6600"/>
<path d="M109.4 929.9h17l-8.5 14.7zM116.2 957.3h17l-8.5 14.7zM123 958.2h17l-8.5 14.7zM129.8 959.1h17l-8.5 14.7zM136.6 960h17l-8.5 14.7zM143.4 960.9h17l-8.5 14.7zM150.2 961.7h17l-8.5 14.7zM157 962.5h17l-8.5 14.7zM163.8 963.3h17l-8.5 14.7zM170.6 964h17l-8.5 14.7zM177.4 964.6h17l-8.5 14.7zM184.2 965.3h17l-8.5 14.7zM191 965.8h17l-8.5 14.7zM197.8 966.4h17l-8.5 14.7zM204.6 966.9h17l-8.5 14.7zM211.4 967.3h17l-8.5 14.7zM218.2 967.8h17l-8.5 14.7zM225 968.3h17l-8.5 14.7zM231.8 968.7h17l-8.5 14.7zM238.6 969.1h17l-8.5 14.7zM245.4 969.5h17l-8.5 14.7zM252.2 969.9h17l-8.5 14.7zM259 970.3h17l-8.5 14.7zM265.8 970.6h17l-8.5 14.7zM272.6 971h17l-8.5 14.7zM279.4 971.3h17l-8.5 14.7zM286.2 971.7h17l-8.5 14.7zM293 972h17l-8.5 14.7zM299.8 972.3h17l-8.5 14.7zM306.6 972.6h17l-8.5 14.7zM313.4 972.9h17l-8.5 14.7zM320.2 973.2h17l-8.5 14.7zM327 973.5h17l-8.5 14.7zM333.8 973.8h17l-8.5 14.7zM340.6 974.1h17l-8.5 14.7zM347.4 974.3h17l-8.5 14.7zM354.2 974.6h17l-8.5 14.7zM361 974.8h17l-8.5 14.7zM367.8 975h17l-8.5 14.7zM374.6 975.3h17l-8.5 14.7zM381.4 975.5h17l-8.5 14.7zM388.2 975.7h17l-8.5 14.7zM395 976h17l-8.5 14.7zM401.8 976.2h17l-8.5 14.7zM408.6 976.4h17l-8.5 14.7zM415.4 976.6h17l-8.5 14.7zM422.2 976.9h17l-8.5 14.7zM429 977.1h17l-8.5 14.7zM435.8 977.3h17l-8.5 14.7zM442.6 977.6h17l-8.5 14.7zM449.5 977.8h17l-8.5 14.7zM456.3 978.1h17l-8.5 14.7zM463.1 978.3h17l-8.5 14.7zM469.9 978.6h17l-8.5 14.7zM476.7 978.8h17l-8.5 14.7zM483.5 979.1h17l-8.5 14.7zM490.3 979.4h17l-8.5 14.7zM497.1 979.7h17l-8.5 14.7zM503.9 980.1h17l-8.5 14.7zM510.7 980.4h17l-8.5 14.7zM517.5 980.8h17l-8.5 14.7zM524.3 981.1h17l-8.5 14.7zM531.1 981.5h17l-8.5 14.7zM537.9 981.8h17l-8.5 14.7zM544.7 982.2h17l-8.5 14.7zM551.5 982.5h17l-8.5 14.7zM558.3 982.9h17l-8.5 14.7zM565.1 983.2h17l-8.5 14.7zM571.9 983.5h17l-8.5 14.7zM578.7 983.8h17l-8.5 14.7zM585.5 984.1h17l-8.5 14.7zM592.3 984.4h17l-8.5 14.7zM599.1 984.7h17l-8.5 14.7zM605.9 985.1h17l-8.5 14.7zM612.7 985.4h17l-8.5 14.7zM619.5 985.7h17l-8.5 14.7zM626.3 986h17l-8.5 14.7zM633.1 986.4h17l-8.5 14.7zM639.9 986.7h17l-8.5 14.7zM646.7 987.1h17l-8.5 14.7zM653.5 987.4h17l-8.5 14.7zM660.3 987.8h17l-8.5 14.7zM667.1 988.2h17l-8.5 14.7zM673.9 988.6h17l-8.5 14.7zM680.7 989h17l-8.5 14.7zM687.5 989.4h17l-8.5 14.7zM694.3 989.8h17l-8.5 14.7zM701.1 990.3h17l-8.5 14.7zM707.9 990.7h17l-8.5 14.7zM714.7 991.1h17l-8.5 14.7zM721.5 991.6h17l-8.5 14.7zM728.3 992h17l-8.5 14.7zM735.1 992.5h17l-8.5 14.7zM741.9 992.9h17l-8.5 14.7zM748.7 993.4h17l-8.5 14.7zM755.5 993.9h17l-8.5 14.7zM762.3 994.4h17l-8.5 14.7zM769.1 994.8h17l-8.5 14.7zM775.9 995.3h17l-8.5 14.7zM782.7 995.8h17l-8.5 14.7z" fill="#0a9a3a"/>
<path d="M109.4 925.3h17l-8.5 14.7zM116.2 949.4h17l-8.5 14.7zM123 950.4h17l-8.5 14.7zM129.8 951.4h17l-8.5 14.7zM136.6 952.4h17l-8.5 14.7zM143.4 953.4h17l-8.5 14.7zM150.2 954.3h17l-8.5 14.7zM157 955.2h17l-8.5 14.7zM163.8 956.1h17l-8.5 14.7zM170.6 956.9h17l-8.5 14.7zM177.4 957.6h17l-8.5 14.7zM184.2 958.4h17l-8.5 14.7zM191 959h17l-8.5 14.7zM197.8 959.7h17l-8.5 14.7zM204.6 960.2h17l-8.5 14.7zM211.4 960.8h17l-8.5 14.7zM218.2 961.3h17l-8.5 14.7zM225 961.9h17l-8.5 14.7zM231.8 962.4h17l-8.5 14.7zM238.6 962.8h17l-8.5 14.7zM245.4 963.3h17l-8.5 14.7zM252.2 963.8h17l-8.5 14.7zM259 964.2h17l-8.5 14.7zM265.8 964.6h17l-8.5 14.7zM272.6 965.1h17l-8.5 14.7zM279.4 965.5h17l-8.5 14.7zM286.2 965.9h17l-8.5 14.7zM293 966.4h17l-8.5 14.7zM299.8 966.8h17l-8.5 14.7zM306.6 967.2h17l-8.5 14.7zM313.4 967.7h17l-8.5 14.7zM320.2 968.1h17l-8.5 14.7zM327 968.5h17l-8.5 14.7zM333.8 968.9h17l-8.5 14.7zM340.6 969.3h17l-8.5 14.7zM347.4 969.7h17l-8.5 14.7zM354.2 970.1h17l-8.5 14.7zM361 970.5h17l-8.5 14.7zM367.8 970.8h17l-8.5 14.7zM374.6 971.2h17l-8.5 14.7zM381.4 971.6h17l-8.5 14.7zM388.2 971.9h17l-8.5 14.7zM395 972.3h17l-8.5 14.7zM401.8 972.7h17l-8.5 14.7zM408.6 973.1h17l-8.5 14.7zM415.4 973.4h17l-8.5 14.7zM422.2 973.8h17l-8.5 14.7zM429 974.2h17l-8.5 14.7zM435.8 974.6h17l-8.5 14.7zM442.6 975h17l-8.5 14.7zM449.5 975.4h17l-8.5 14.7zM456.3 975.9h17l-8.5 14.7zM463.1 976.3h17l-8.5 14.7zM469.9 976.8h17l-8.5 14.7zM476.7 977.3h17l-8.5 14.7zM483.5 977.8h17l-8.5 14.7zM490.3 978.3h17l-8.5 14.7zM497.1 978.8h17l-8.5 14.7zM503.9 979.5h17l-8.5 14.7zM510.7 980.1h17l-8.5 14.7zM517.5 980.8h17l-8.5 14.7zM524.3 981.5h17l-8.5 14.7zM531.1 982.2h17l-8.5 14.7zM537.9 982.9h17l-8.5 14.7zM544.7 983.6h17l-8.5 14.7zM551.5 984.2h17l-8.5 14.7zM558.3 984.9h17l-8.5 14.7zM565.1 985.5h17l-8.5 14.7zM571.9 986.1h17l-8.5 14.7zM578.7 986.7h17l-8.5 14.7zM585.5 987.3h17l-8.5 14.7zM592.3 987.8h17l-8.5 14.7zM599.1 988.4h17l-8.5 14.7zM605.9 989h17l-8.5 14.7zM612.7 989.6h17l-8.5 14.7zM619.5 990.1h17l-8.5 14.7zM626.3 990.7h17l-8.5 14.7zM633.1 991.3h17l-8.5 14.7zM639.9 991.9h17l-8.5 14.7zM646.7 992.4h17l-8.5 14.7zM653.5 993h17l-8.5 14.7zM660.3 993.6h17l-8.5 14.7zM667.1 994.2h17l-8.5 14.7zM673.9 994.8h17l-8.5 14.7zM680.7 995.4h17l-8.5 14.7zM687.5 995.9h17l-8.5 14.7zM694.3 996.5h17l-8.5 14.7zM701.1 997.1h17l-8.5 14.7zM707.9 997.7h17l-8.5 14.7zM714.7 998.3h17l-8.5 14.7zM721.5 998.9h17l-8.5 14.7zM728.3 999.4h17l-8.5 14.7zM735.1 1000h17l-8.5 14.7zM741.9 1000.6h17l-8.5 14.7zM748.7 1001.2h17l-8.5 14.7zM755.5 1001.8h17l-8.5 14.7zM762.3 1002.3h17l-8.5 14.7zM769.1 1002.9h17l-8.5 14.7zM775.9 1003.5h17l-8.5 14.7zM782.7 1004.1h17l-8.5 14.7z" fill="#c8693a"/>
</g>
<g fill="none" stroke-width="1.3">
<g stroke="#000000">
<circle cx="117.9" cy="1170.7" r="8.3"/><circle cx="124.7" cy="1052.1" r="8.3"/><circle cx="131.5" cy="907.2" r="8.3"/><circle cx="138.3" cy="903.3" r="8.3"/><circle cx="145.1" cy="901.4" r="8.3"/><circle cx="151.9" cy="898.8" r="8.3"/><circle cx="158.7" cy="897.3" r="8.3"/><circle cx="165.5" cy="897.3" r="8.3"/><circle cx="172.3" cy="894.5" r="8.3"/><circle cx="179.1" cy="894.2" r="8.3"/><circle cx="185.9" cy="894.5" r="8.3"/><circle cx="192.7" cy="893.8" r="8.3"/><circle cx="199.5" cy="893.1" r="8.3"/><circle cx="206.3" cy="893.4" r="8.3"/><circle cx="213.1" cy="893.2" r="8.3"/><circle cx="219.9" cy="893.9" r="8.3"/><circle cx="226.7" cy="892.4" r="8.3"/><circle cx="233.5" cy="892.6" r="8.3"/><circle cx="240.3" cy="892.5" r="8.3"/><circle cx="247.1" cy="893.7" r="8.3"/><circle cx="253.9" cy="891.5" r="8.3"/><circle cx="260.7" cy="892.5" r="8.3"/><circle cx="267.5" cy="892.8" r="8.3"/><circle cx="274.3" cy="891.1" r="8.3"/><circle cx="281.1" cy="892.5" r="8.3"/><circle cx="287.9" cy="893.5" r="8.3"/><circle cx="294.7" cy="892.7" r="8.3"/><circle cx="301.5" cy="894" r="8.3"/><circle cx="308.3" cy="891.7" r="8.3"/><circle cx="315.1" cy="892.7" r="8.3"/><circle cx="321.9" cy="892.9" r="8.3"/><circle cx="328.7" cy="891.7" r="8.3"/><circle cx="335.5" cy="893.5" r="8.3"/><circle cx="342.3" cy="892" r="8.3"/><circle cx="349.1" cy="893.8" r="8.3"/><circle cx="355.9" cy="892.8" r="8.3"/><circle cx="362.7" cy="893.2" r="8.3"/><circle cx="369.5" cy="891.4" r="8.3"/><circle cx="376.3" cy="891.2" r="8.3"/><circle cx="383.1" cy="892.6" r="8.3"/><circle cx="389.9" cy="891.8" r="8.3"/><circle cx="396.7" cy="892.5" r="8.3"/><circle cx="403.5" cy="891.9" r="8.3"/><circle cx="410.3" cy="892.8" r="8.3"/><circle cx="417.1" cy="893.5" r="8.3"/><circle cx="423.9" cy="893.5" r="8.3"/><circle cx="430.7" cy="892" r="8.3"/><circle cx="437.5" cy="890.8" r="8.3"/><circle cx="444.3" cy="892.1" r="8.3"/><circle cx="451.1" cy="892.6" r="8.3"/><circle cx="458" cy="891" r="8.3"/><circle cx="464.8" cy="892.1" r="8.3"/><circle cx="471.6" cy="892.2" r="8.3"/><circle cx="478.4" cy="892.1" r="8.3"/><circle cx="485.2" cy="892.3" r="8.3"/><circle cx="492" cy="892.4" r="8.3"/><circle cx="498.8" cy="893.2" r="8.3"/><circle cx="505.6" cy="891.9" r="8.3"/><circle cx="512.4" cy="892.3" r="8.3"/><circle cx="519.2" cy="891.4" r="8.3"/><circle cx="526" cy="892.4" r="8.3"/><circle cx="532.8" cy="893.5" r="8.3"/><circle cx="539.6" cy="892.2" r="8.3"/><circle cx="546.4" cy="891" r="8.3"/><circle cx="553.2" cy="892.4" r="8.3"/><circle cx="560" cy="892.7" r="8.3"/><circle cx="566.8" cy="892.9" r="8.3"/><circle cx="573.6" cy="892.8" r="8.3"/><circle cx="580.4" cy="892.3" r="8.3"/><circle cx="587.2" cy="892.9" r="8.3"/><circle cx="594" cy="891.1" r="8.3"/><circle cx="600.8" cy="892.3" r="8.3"/><circle cx="607.6" cy="892" r="8.3"/><circle cx="614.4" cy="891.1" r="8.3"/><circle cx="621.2" cy="891.1" r="8.3"/><circle cx="628" cy="892.2" r="8.3"/><circle cx="634.8" cy="891.8" r="8.3"/><circle cx="641.6" cy="891.5" r="8.3"/><circle cx="648.4" cy="892.2" r="8.3"/><circle cx="655.2" cy="893.2" r="8.3"/><circle cx="662" cy="891.6" r="8.3"/><circle cx="668.8" cy="891.4" r="8.3"/><circle cx="675.6" cy="891.7" r="8.3"/><circle cx="682.4" cy="892.6" r="8.3"/><circle cx="689.2" cy="892.1" r="8.3"/><circle cx="696" cy="892.4" r="8.3"/><circle cx="702.8" cy="892.2" r="8.3"/><circle cx="709.6" cy="891.1" r="8.3"/><circle cx="716.4" cy="890.9" r="8.3"/><circle cx="723.2" cy="891.5" r="8.3"/><circle cx="730" cy="891.6" r="8.3"/><circle cx="736.8" cy="891.5" r="8.3"/><circle cx="743.6" cy="891.9" r="8.3"/><circle cx="750.4" cy="892" r="8.3"/><circle cx="757.2" cy="892.4" r="8.3"/><circle cx="764" cy="891.9" r="8.3"/><circle cx="770.8" cy="890.4" r="8.3"/><circle cx="777.6" cy="891.3" r="8.3"/><circle cx="784.4" cy="892.1" r="8.3"/><circle cx="791.2" cy="892.2" r="8.3"/>
</g>
<g stroke="#0000ff">
<circle cx="117.9" cy="1254.4" r="8.3"/><circle cx="124.7" cy="1056.4" r="8.3"/><circle cx="131.5" cy="907.8" r="8.3"/><circle cx="138.3" cy="905.6" r="8.3"/><circle cx="145.1" cy="901.7" r="8.3"/><circle cx="151.9" cy="900.5" r="8.3"/><circle cx="158.7" cy="897.7" r="8.3"/><circle cx="165.5" cy="897.4" r="8.3"/><circle cx="172.3" cy="895.5" r="8.3"/><circle cx="179.1" cy="896.4" r="8.3"/><circle cx="185.9" cy="895.8" r="8.3"/><circle cx="192.7" cy="895" r="8.3"/><circle cx="199.5" cy="894.3" r="8.3"/><circle cx="206.3" cy="894.4" r="8.3"/><circle cx="213.1" cy="895.5" r="8.3"/><circle cx="219.9" cy="894.4" r="8.3"/><circle cx="226.7" cy="894.4" r="8.3"/><circle cx="233.5" cy="894.6" r="8.3"/><circle cx="240.3" cy="894.7" r="8.3"/><circle cx="247.1" cy="893.1" r="8.3"/><circle cx="253.9" cy="894.5" r="8.3"/><circle cx="260.7" cy="894.7" r="8.3"/><circle cx="267.5" cy="893.7" r="8.3"/><circle cx="274.3" cy="894" r="8.3"/><circle cx="281.1" cy="894.2" r="8.3"/><circle cx="287.9" cy="893.6" r="8.3"/><circle cx="294.7" cy="893.8" r="8.3"/><circle cx="301.5" cy="893.8" r="8.3"/><circle cx="308.3" cy="893.4" r="8.3"/><circle cx="315.1" cy="893.9" r="8.3"/><circle cx="321.9" cy="894.5" r="8.3"/><circle cx="328.7" cy="894.3" r="8.3"/><circle cx="335.5" cy="894.4" r="8.3"/><circle cx="342.3" cy="893.9" r="8.3"/><circle cx="349.1" cy="894.7" r="8.3"/><circle cx="355.9" cy="895.2" r="8.3"/><circle cx="362.7" cy="893.9" r="8.3"/><circle cx="369.5" cy="894.9" r="8.3"/><circle cx="376.3" cy="895.3" r="8.3"/><circle cx="383.1" cy="893.7" r="8.3"/><circle cx="389.9" cy="894.4" r="8.3"/><circle cx="396.7" cy="893.6" r="8.3"/><circle cx="403.5" cy="894.3" r="8.3"/><circle cx="410.3" cy="894.7" r="8.3"/><circle cx="417.1" cy="894.8" r="8.3"/><circle cx="423.9" cy="894.3" r="8.3"/><circle cx="430.7" cy="894.1" r="8.3"/><circle cx="437.5" cy="894.5" r="8.3"/><circle cx="444.3" cy="894.1" r="8.3"/><circle cx="451.1" cy="894.9" r="8.3"/><circle cx="458" cy="893.9" r="8.3"/><circle cx="464.8" cy="895.1" r="8.3"/><circle cx="471.6" cy="894" r="8.3"/><circle cx="478.4" cy="893.4" r="8.3"/><circle cx="485.2" cy="893.1" r="8.3"/><circle cx="492" cy="892.7" r="8.3"/><circle cx="498.8" cy="894.9" r="8.3"/><circle cx="505.6" cy="893.3" r="8.3"/><circle cx="512.4" cy="893" r="8.3"/><circle cx="519.2" cy="893.1" r="8.3"/><circle cx="526" cy="894.4" r="8.3"/><circle cx="532.8" cy="893.5" r="8.3"/><circle cx="539.6" cy="892.5" r="8.3"/><circle cx="546.4" cy="894.8" r="8.3"/><circle cx="553.2" cy="893.4" r="8.3"/><circle cx="560" cy="893" r="8.3"/><circle cx="566.8" cy="894.2" r="8.3"/><circle cx="573.6" cy="893.4" r="8.3"/><circle cx="580.4" cy="894.5" r="8.3"/><circle cx="587.2" cy="894.3" r="8.3"/><circle cx="594" cy="894.3" r="8.3"/><circle cx="600.8" cy="893.6" r="8.3"/><circle cx="607.6" cy="893.8" r="8.3"/><circle cx="614.4" cy="893.1" r="8.3"/><circle cx="621.2" cy="894.3" r="8.3"/><circle cx="628" cy="893.8" r="8.3"/><circle cx="634.8" cy="893" r="8.3"/><circle cx="641.6" cy="893.3" r="8.3"/><circle cx="648.4" cy="894.5" r="8.3"/><circle cx="655.2" cy="893.2" r="8.3"/><circle cx="662" cy="894" r="8.3"/><circle cx="668.8" cy="893.4" r="8.3"/><circle cx="675.6" cy="893.4" r="8.3"/><circle cx="682.4" cy="892.8" r="8.3"/><circle cx="689.2" cy="893.5" r="8.3"/><circle cx="696" cy="894.9" r="8.3"/><circle cx="702.8" cy="894.5" r="8.3"/><circle cx="709.6" cy="893.1" r="8.3"/><circle cx="716.4" cy="893.7" r="8.3"/><circle cx="723.2" cy="892.8" r="8.3"/><circle cx="730" cy="893.4" r="8.3"/><circle cx="736.8" cy="894.1" r="8.3"/><circle cx="743.6" cy="892.8" r="8.3"/><circle cx="750.4" cy="894.1" r="8.3"/><circle cx="757.2" cy="894.9" r="8.3"/><circle cx="764" cy="892.1" r="8.3"/><circle cx="770.8" cy="902.7" r="8.3"/><circle cx="777.6" cy="893.1" r="8.3"/><circle cx="784.4" cy="892.9" r="8.3"/><circle cx="791.2" cy="893.4" r="8.3"/>
</g>
<g stroke="#0a9a3a">
<circle cx="117.9" cy="1230.6" r="8.3"/><circle cx="124.7" cy="1044.8" r="8.3"/><circle cx="131.5" cy="905.5" r="8.3"/><circle cx="138.3" cy="902.1" r="8.3"/><circle cx="145.1" cy="898.9" r="8.3"/><circle cx="151.9" cy="896.2" r="8.3"/><circle cx="158.7" cy="895.1" r="8.3"/><circle cx="165.5" cy="893.7" r="8.3"/><circle cx="172.3" cy="893.7" r="8.3"/><circle cx="179.1" cy="892.9" r="8.3"/><circle cx="185.9" cy="893.1" r="8.3"/><circle cx="192.7" cy="892.2" r="8.3"/><circle cx="199.5" cy="891.3" r="8.3"/><circle cx="206.3" cy="883.5" r="8.3"/><circle cx="213.1" cy="891" r="8.3"/><circle cx="219.9" cy="891.6" r="8.3"/><circle cx="226.7" cy="891.6" r="8.3"/><circle cx="233.5" cy="891.1" r="8.3"/><circle cx="240.3" cy="891.2" r="8.3"/><circle cx="247.1" cy="890.6" r="8.3"/><circle cx="253.9" cy="890.8" r="8.3"/><circle cx="260.7" cy="889.8" r="8.3"/><circle cx="267.5" cy="891.1" r="8.3"/><circle cx="274.3" cy="891" r="8.3"/><circle cx="281.1" cy="891.6" r="8.3"/><circle cx="287.9" cy="890.8" r="8.3"/><circle cx="294.7" cy="890.4" r="8.3"/><circle cx="301.5" cy="891.3" r="8.3"/><circle cx="308.3" cy="890.9" r="8.3"/><circle cx="315.1" cy="890.3" r="8.3"/><circle cx="321.9" cy="890.9" r="8.3"/><circle cx="328.7" cy="891.1" r="8.3"/><circle cx="335.5" cy="890.1" r="8.3"/><circle cx="342.3" cy="890.7" r="8.3"/><circle cx="349.1" cy="890.5" r="8.3"/><circle cx="355.9" cy="890" r="8.3"/><circle cx="362.7" cy="890" r="8.3"/><circle cx="369.5" cy="885.7" r="8.3"/><circle cx="376.3" cy="891.1" r="8.3"/><circle cx="383.1" cy="890.5" r="8.3"/><circle cx="389.9" cy="890.8" r="8.3"/><circle cx="396.7" cy="892" r="8.3"/><circle cx="403.5" cy="883.8" r="8.3"/><circle cx="410.3" cy="890.7" r="8.3"/><circle cx="417.1" cy="890.2" r="8.3"/><circle cx="423.9" cy="891.5" r="8.3"/><circle cx="430.7" cy="889.8" r="8.3"/><circle cx="437.5" cy="891.1" r="8.3"/><circle cx="444.3" cy="890.7" r="8.3"/><circle cx="451.1" cy="891.6" r="8.3"/><circle cx="458" cy="890.8" r="8.3"/><circle cx="464.8" cy="890.8" r="8.3"/><circle cx="471.6" cy="890.7" r="8.3"/><circle cx="478.4" cy="890.3" r="8.3"/><circle cx="485.2" cy="890.6" r="8.3"/><circle cx="492" cy="889.9" r="8.3"/><circle cx="498.8" cy="890.9" r="8.3"/><circle cx="505.6" cy="891.3" r="8.3"/><circle cx="512.4" cy="890.6" r="8.3"/><circle cx="519.2" cy="890.1" r="8.3"/><circle cx="526" cy="889.7" r="8.3"/><circle cx="532.8" cy="890" r="8.3"/><circle cx="539.6" cy="891.7" r="8.3"/><circle cx="546.4" cy="890.3" r="8.3"/><circle cx="553.2" cy="889.5" r="8.3"/><circle cx="560" cy="890.5" r="8.3"/><circle cx="566.8" cy="890.9" r="8.3"/><circle cx="573.6" cy="890.3" r="8.3"/><circle cx="580.4" cy="890.8" r="8.3"/><circle cx="587.2" cy="890.1" r="8.3"/><circle cx="594" cy="890.5" r="8.3"/><circle cx="600.8" cy="889.5" r="8.3"/><circle cx="607.6" cy="890.1" r="8.3"/><circle cx="614.4" cy="890.9" r="8.3"/><circle cx="621.2" cy="890" r="8.3"/><circle cx="628" cy="889.8" r="8.3"/><circle cx="634.8" cy="890.8" r="8.3"/><circle cx="641.6" cy="890.7" r="8.3"/><circle cx="648.4" cy="892" r="8.3"/><circle cx="655.2" cy="889.8" r="8.3"/><circle cx="662" cy="890.8" r="8.3"/><circle cx="668.8" cy="891.8" r="8.3"/><circle cx="675.6" cy="891.6" r="8.3"/><circle cx="682.4" cy="890.5" r="8.3"/><circle cx="689.2" cy="889.9" r="8.3"/><circle cx="696" cy="890.4" r="8.3"/><circle cx="702.8" cy="890" r="8.3"/><circle cx="709.6" cy="891.1" r="8.3"/><circle cx="716.4" cy="891.2" r="8.3"/><circle cx="723.2" cy="889.7" r="8.3"/><circle cx="730" cy="890" r="8.3"/><circle cx="736.8" cy="890.3" r="8.3"/><circle cx="743.6" cy="889.4" r="8.3"/><circle cx="750.4" cy="890.9" r="8.3"/><circle cx="757.2" cy="890.6" r="8.3"/><circle cx="764" cy="889.6" r="8.3"/><circle cx="770.8" cy="889" r="8.3"/><circle cx="777.6" cy="890.3" r="8.3"/><circle cx="784.4" cy="889.1" r="8.3"/><circle cx="791.2" cy="890.7" r="8.3"/>
</g>
<g stroke="#c8693a">
<circle cx="117.9" cy="1170.7" r="8.3"/><circle cx="124.7" cy="1033.2" r="8.3"/><circle cx="131.5" cy="912.9" r="8.3"/><circle cx="138.3" cy="907.4" r="8.3"/><circle cx="145.1" cy="903.7" r="8.3"/><circle cx="151.9" cy="902" r="8.3"/><circle cx="158.7" cy="900.1" r="8.3"/><circle cx="165.5" cy="897.7" r="8.3"/><circle cx="172.3" cy="898.5" r="8.3"/><circle cx="179.1" cy="897.8" r="8.3"/><circle cx="185.9" cy="896.7" r="8.3"/><circle cx="192.7" cy="896.6" r="8.3"/><circle cx="199.5" cy="894.5" r="8.3"/><circle cx="206.3" cy="895" r="8.3"/><circle cx="213.1" cy="895.6" r="8.3"/><circle cx="219.9" cy="895.3" r="8.3"/><circle cx="226.7" cy="892.8" r="8.3"/><circle cx="233.5" cy="895.1" r="8.3"/><circle cx="240.3" cy="895.1" r="8.3"/><circle cx="247.1" cy="894.3" r="8.3"/><circle cx="253.9" cy="894.1" r="8.3"/><circle cx="260.7" cy="894.3" r="8.3"/><circle cx="267.5" cy="895" r="8.3"/><circle cx="274.3" cy="895.2" r="8.3"/><circle cx="281.1" cy="894" r="8.3"/><circle cx="287.9" cy="894.4" r="8.3"/><circle cx="294.7" cy="895.5" r="8.3"/><circle cx="301.5" cy="893.6" r="8.3"/><circle cx="308.3" cy="893.8" r="8.3"/><circle cx="315.1" cy="894.5" r="8.3"/><circle cx="321.9" cy="894.5" r="8.3"/><circle cx="328.7" cy="894.2" r="8.3"/><circle cx="335.5" cy="894.8" r="8.3"/><circle cx="342.3" cy="895.2" r="8.3"/><circle cx="349.1" cy="894.1" r="8.3"/><circle cx="355.9" cy="895.2" r="8.3"/><circle cx="362.7" cy="894" r="8.3"/><circle cx="369.5" cy="895.2" r="8.3"/><circle cx="376.3" cy="894.3" r="8.3"/><circle cx="383.1" cy="894.3" r="8.3"/><circle cx="389.9" cy="893" r="8.3"/><circle cx="396.7" cy="894.9" r="8.3"/><circle cx="403.5" cy="895.2" r="8.3"/><circle cx="410.3" cy="894.6" r="8.3"/><circle cx="417.1" cy="895" r="8.3"/><circle cx="423.9" cy="894.6" r="8.3"/><circle cx="430.7" cy="893.9" r="8.3"/><circle cx="437.5" cy="893.7" r="8.3"/><circle cx="444.3" cy="893" r="8.3"/><circle cx="451.1" cy="894.7" r="8.3"/><circle cx="458" cy="892.4" r="8.3"/><circle cx="464.8" cy="892.8" r="8.3"/><circle cx="471.6" cy="894.3" r="8.3"/><circle cx="478.4" cy="895.7" r="8.3"/><circle cx="485.2" cy="894.2" r="8.3"/><circle cx="492" cy="894.1" r="8.3"/><circle cx="498.8" cy="895.7" r="8.3"/><circle cx="505.6" cy="894" r="8.3"/><circle cx="512.4" cy="894.2" r="8.3"/><circle cx="519.2" cy="894.6" r="8.3"/><circle cx="526" cy="893.6" r="8.3"/><circle cx="532.8" cy="893.4" r="8.3"/><circle cx="539.6" cy="894.4" r="8.3"/><circle cx="546.4" cy="893.9" r="8.3"/><circle cx="553.2" cy="894.5" r="8.3"/><circle cx="560" cy="894.6" r="8.3"/><circle cx="566.8" cy="894" r="8.3"/><circle cx="573.6" cy="893.7" r="8.3"/><circle cx="580.4" cy="894.4" r="8.3"/><circle cx="587.2" cy="895.5" r="8.3"/><circle cx="594" cy="893.6" r="8.3"/><circle cx="600.8" cy="895.1" r="8.3"/><circle cx="607.6" cy="893.9" r="8.3"/><circle cx="614.4" cy="892.8" r="8.3"/><circle cx="621.2" cy="894" r="8.3"/><circle cx="628" cy="895.6" r="8.3"/><circle cx="634.8" cy="895.9" r="8.3"/><circle cx="641.6" cy="893.1" r="8.3"/><circle cx="648.4" cy="893.9" r="8.3"/><circle cx="655.2" cy="893.6" r="8.3"/><circle cx="662" cy="893.3" r="8.3"/><circle cx="668.8" cy="893.9" r="8.3"/><circle cx="675.6" cy="894.1" r="8.3"/><circle cx="682.4" cy="894.5" r="8.3"/><circle cx="689.2" cy="896" r="8.3"/><circle cx="696" cy="894.9" r="8.3"/><circle cx="702.8" cy="893.9" r="8.3"/><circle cx="709.6" cy="894" r="8.3"/><circle cx="716.4" cy="893.6" r="8.3"/><circle cx="723.2" cy="893.9" r="8.3"/><circle cx="730" cy="893.7" r="8.3"/><circle cx="736.8" cy="893.3" r="8.3"/><circle cx="743.6" cy="894.4" r="8.3"/><circle cx="750.4" cy="894" r="8.3"/><circle cx="757.2" cy="894.9" r="8.3"/><circle cx="764" cy="893.1" r="8.3"/><circle cx="770.8" cy="893.8" r="8.3"/><circle cx="777.6" cy="893.4" r="8.3"/><circle cx="784.4" cy="892.7" r="8.3"/><circle cx="791.2" cy="893" r="8.3"/>
</g>
<g stroke="#ff6600">
<circle cx="117.9" cy="1170.7" r="8.3"/><circle cx="124.7" cy="1035.6" r="8.3"/><circle cx="131.5" cy="902.8" r="8.3"/><circle cx="138.3" cy="899.3" r="8.3"/><circle cx="145.1" cy="897.8" r="8.3"/><circle cx="151.9" cy="897.8" r="8.3"/><circle cx="158.7" cy="894.8" r="8.3"/><circle cx="165.5" cy="895.5" r="8.3"/><circle cx="172.3" cy="894" r="8.3"/><circle cx="179.1" cy="894.4" r="8.3"/><circle cx="185.9" cy="893.1" r="8.3"/><circle cx="192.7" cy="892.6" r="8.3"/><circle cx="199.5" cy="893.9" r="8.3"/><circle cx="206.3" cy="894.2" r="8.3"/><circle cx="213.1" cy="893.2" r="8.3"/><circle cx="219.9" cy="892.5" r="8.3"/><circle cx="226.7" cy="893.2" r="8.3"/><circle cx="233.5" cy="893.3" r="8.3"/><circle cx="240.3" cy="892.6" r="8.3"/><circle cx="247.1" cy="894.7" r="8.3"/><circle cx="253.9" cy="893.3" r="8.3"/><circle cx="260.7" cy="893.7" r="8.3"/><circle cx="267.5" cy="892.6" r="8.3"/><circle cx="274.3" cy="893.3" r="8.3"/><circle cx="281.1" cy="893.5" r="8.3"/><circle cx="287.9" cy="893" r="8.3"/><circle cx="294.7" cy="893.7" r="8.3"/><circle cx="301.5" cy="892.7" r="8.3"/><circle cx="308.3" cy="893.2" r="8.3"/><circle cx="315.1" cy="893" r="8.3"/><circle cx="321.9" cy="893.2" r="8.3"/><circle cx="328.7" cy="892.1" r="8.3"/><circle cx="335.5" cy="892.8" r="8.3"/><circle cx="342.3" cy="892.3" r="8.3"/><circle cx="349.1" cy="892.3" r="8.3"/><circle cx="355.9" cy="893.2" r="8.3"/><circle cx="362.7" cy="892.3" r="8.3"/><circle cx="369.5" cy="892.4" r="8.3"/><circle cx="376.3" cy="892.4" r="8.3"/><circle cx="383.1" cy="892.9" r="8.3"/><circle cx="389.9" cy="892.9" r="8.3"/><circle cx="396.7" cy="892.1" r="8.3"/><circle cx="403.5" cy="891.1" r="8.3"/><circle cx="410.3" cy="893.1" r="8.3"/><circle cx="417.1" cy="892.2" r="8.3"/><circle cx="423.9" cy="892.8" r="8.3"/><circle cx="430.7" cy="892" r="8.3"/><circle cx="437.5" cy="892.3" r="8.3"/><circle cx="444.3" cy="891.8" r="8.3"/><circle cx="451.1" cy="894.4" r="8.3"/><circle cx="458" cy="892.9" r="8.3"/><circle cx="464.8" cy="893.2" r="8.3"/><circle cx="471.6" cy="892.6" r="8.3"/><circle cx="478.4" cy="893" r="8.3"/><circle cx="485.2" cy="892.9" r="8.3"/><circle cx="492" cy="892" r="8.3"/><circle cx="498.8" cy="891.2" r="8.3"/><circle cx="505.6" cy="894.4" r="8.3"/><circle cx="512.4" cy="892.7" r="8.3"/><circle cx="519.2" cy="892.2" r="8.3"/><circle cx="526" cy="892.4" r="8.3"/><circle cx="532.8" cy="892.7" r="8.3"/><circle cx="539.6" cy="893.3" r="8.3"/><circle cx="546.4" cy="893.1" r="8.3"/><circle cx="553.2" cy="891.9" r="8.3"/><circle cx="560" cy="891.7" r="8.3"/><circle cx="566.8" cy="892.3" r="8.3"/><circle cx="573.6" cy="893" r="8.3"/><circle cx="580.4" cy="892.3" r="8.3"/><circle cx="587.2" cy="892.5" r="8.3"/><circle cx="594" cy="892" r="8.3"/><circle cx="600.8" cy="892.3" r="8.3"/><circle cx="607.6" cy="892.8" r="8.3"/><circle cx="614.4" cy="892.2" r="8.3"/><circle cx="621.2" cy="893.1" r="8.3"/><circle cx="628" cy="891.8" r="8.3"/><circle cx="634.8" cy="891.5" r="8.3"/><circle cx="641.6" cy="893.1" r="8.3"/><circle cx="648.4" cy="892" r="8.3"/><circle cx="655.2" cy="893" r="8.3"/><circle cx="662" cy="891.6" r="8.3"/><circle cx="668.8" cy="891.7" r="8.3"/><circle cx="675.6" cy="892.4" r="8.3"/><circle cx="682.4" cy="891.6" r="8.3"/><circle cx="689.2" cy="892.5" r="8.3"/><circle cx="696" cy="892.7" r="8.3"/><circle cx="702.8" cy="892.6" r="8.3"/><circle cx="709.6" cy="892.3" r="8.3"/><circle cx="716.4" cy="892.4" r="8.3"/><circle cx="723.2" cy="892.1" r="8.3"/><circle cx="730" cy="892.6" r="8.3"/><circle cx="736.8" cy="891.7" r="8.3"/><circle cx="743.6" cy="891.5" r="8.3"/><circle cx="750.4" cy="892.5" r="8.3"/><circle cx="757.2" cy="893.1" r="8.3"/><circle cx="764" cy="891.7" r="8.3"/><circle cx="770.8" cy="891.4" r="8.3"/><circle cx="777.6" cy="892.3" r="8.3"/><circle cx="784.4" cy="893" r="8.3"/><circle cx="791.2" cy="892" r="8.3"/>
</g>
<g stroke="#ff0000" stroke-width="1.9">
<circle cx="117.9" cy="1215.5" r="8.3"/><circle cx="124.7" cy="1039.6" r="8.3"/><circle cx="131.5" cy="899.4" r="8.3"/><circle cx="138.3" cy="898.1" r="8.3"/><circle cx="145.1" cy="897.1" r="8.3"/><circle cx="151.9" cy="895.1" r="8.3"/><circle cx="158.7" cy="895.6" r="8.3"/><circle cx="165.5" cy="893.9" r="8.3"/><circle cx="172.3" cy="892.8" r="8.3"/><circle cx="179.1" cy="893.2" r="8.3"/><circle cx="185.9" cy="893.6" r="8.3"/><circle cx="192.7" cy="894.1" r="8.3"/><circle cx="199.5" cy="893.6" r="8.3"/><circle cx="206.3" cy="893.8" r="8.3"/><circle cx="213.1" cy="891.4" r="8.3"/><circle cx="219.9" cy="892.6" r="8.3"/><circle cx="226.7" cy="893.1" r="8.3"/><circle cx="233.5" cy="893.2" r="8.3"/><circle cx="240.3" cy="893" r="8.3"/><circle cx="247.1" cy="892.5" r="8.3"/><circle cx="253.9" cy="893.1" r="8.3"/><circle cx="260.7" cy="891.1" r="8.3"/><circle cx="267.5" cy="892.7" r="8.3"/><circle cx="274.3" cy="892.8" r="8.3"/><circle cx="281.1" cy="892" r="8.3"/><circle cx="287.9" cy="891.2" r="8.3"/><circle cx="294.7" cy="891.3" r="8.3"/><circle cx="301.5" cy="892.5" r="8.3"/><circle cx="308.3" cy="892" r="8.3"/><circle cx="315.1" cy="892.1" r="8.3"/><circle cx="321.9" cy="891.8" r="8.3"/><circle cx="328.7" cy="892" r="8.3"/><circle cx="335.5" cy="892.8" r="8.3"/><circle cx="342.3" cy="893" r="8.3"/><circle cx="349.1" cy="892" r="8.3"/><circle cx="355.9" cy="892.9" r="8.3"/><circle cx="362.7" cy="891.2" r="8.3"/><circle cx="369.5" cy="892.1" r="8.3"/><circle cx="376.3" cy="892.8" r="8.3"/><circle cx="383.1" cy="892.3" r="8.3"/><circle cx="389.9" cy="892.4" r="8.3"/><circle cx="396.7" cy="892.2" r="8.3"/><circle cx="403.5" cy="891.4" r="8.3"/><circle cx="410.3" cy="893" r="8.3"/><circle cx="417.1" cy="893.3" r="8.3"/><circle cx="423.9" cy="891.8" r="8.3"/><circle cx="430.7" cy="892.1" r="8.3"/><circle cx="437.5" cy="891.9" r="8.3"/><circle cx="444.3" cy="891.7" r="8.3"/><circle cx="451.1" cy="892.1" r="8.3"/><circle cx="458" cy="891.5" r="8.3"/><circle cx="464.8" cy="892.6" r="8.3"/><circle cx="471.6" cy="891.9" r="8.3"/><circle cx="478.4" cy="892.5" r="8.3"/><circle cx="485.2" cy="892.7" r="8.3"/><circle cx="492" cy="891.5" r="8.3"/><circle cx="498.8" cy="891.6" r="8.3"/><circle cx="505.6" cy="893.2" r="8.3"/><circle cx="512.4" cy="892.7" r="8.3"/><circle cx="519.2" cy="891.7" r="8.3"/><circle cx="526" cy="891.2" r="8.3"/><circle cx="532.8" cy="892.4" r="8.3"/><circle cx="539.6" cy="892" r="8.3"/><circle cx="546.4" cy="892.8" r="8.3"/><circle cx="553.2" cy="890.2" r="8.3"/><circle cx="560" cy="891.5" r="8.3"/><circle cx="566.8" cy="891.3" r="8.3"/><circle cx="573.6" cy="891.4" r="8.3"/><circle cx="580.4" cy="891.2" r="8.3"/><circle cx="587.2" cy="891.4" r="8.3"/><circle cx="594" cy="892.1" r="8.3"/><circle cx="600.8" cy="891.3" r="8.3"/><circle cx="607.6" cy="891.8" r="8.3"/><circle cx="614.4" cy="890.9" r="8.3"/><circle cx="621.2" cy="892.3" r="8.3"/><circle cx="628" cy="892.2" r="8.3"/><circle cx="634.8" cy="891.3" r="8.3"/><circle cx="641.6" cy="890.9" r="8.3"/><circle cx="648.4" cy="891.7" r="8.3"/><circle cx="655.2" cy="892.2" r="8.3"/><circle cx="662" cy="891.8" r="8.3"/><circle cx="668.8" cy="892.1" r="8.3"/><circle cx="675.6" cy="890.5" r="8.3"/><circle cx="682.4" cy="891.1" r="8.3"/><circle cx="689.2" cy="890.9" r="8.3"/><circle cx="696" cy="891.5" r="8.3"/><circle cx="702.8" cy="892.1" r="8.3"/><circle cx="709.6" cy="890.9" r="8.3"/><circle cx="716.4" cy="890.6" r="8.3"/><circle cx="723.2" cy="891.3" r="8.3"/><circle cx="730" cy="891.7" r="8.3"/><circle cx="736.8" cy="890.9" r="8.3"/><circle cx="743.6" cy="891.9" r="8.3"/><circle cx="750.4" cy="891.1" r="8.3"/><circle cx="757.2" cy="892.1" r="8.3"/><circle cx="764" cy="892.3" r="8.3"/><circle cx="770.8" cy="891.2" r="8.3"/><circle cx="777.6" cy="891.4" r="8.3"/><circle cx="784.4" cy="890.3" r="8.3"/><circle cx="791.2" cy="891.8" r="8.3"/>
</g>
</g>
<text x="803.4" y="1436.8" font-size="34.2" text-anchor="start">0.8</text>
<text x="803.4" y="1301.7" font-size="34.2" text-anchor="start">0.85</text>
<text x="803.4" y="1166.6" font-size="34.2" text-anchor="start">0.9</text>
<text x="803.4" y="1031.6" font-size="34.2" text-anchor="start">0.95</text>
<text x="801.1" y="896.5" font-size="34.2" text-anchor="start">1</text>
<text x="451.1" y="1508.9" font-size="37.8" text-anchor="middle">Cycle Number</text>
<text x="27.5" y="1142" font-size="37.8" text-anchor="middle" transform="rotate(-90 27.5 1142)">Discharge Capacity (mAh/g)</text>
<text x="884.5" y="1140.2" font-size="37.8" text-anchor="middle" transform="rotate(90 884.5 1140.2)">Coulombic Efficiency</text>
<path d="M140.6 1263.4h20.4l-10.2 17.6z" fill="#000000"/>
<text x="193.9" y="1282" font-size="31.4" text-anchor="start">DPM</text>
<path d="M140.6 1304.4h20.4l-10.2 17.6z" fill="#0000ff"/>
<text x="193.9" y="1323" font-size="31.4" text-anchor="start">1 hour</text>
<path d="M140.6 1345.1h20.4l-10.2 17.6z" fill="#ff0000"/>
<text x="193.9" y="1363.7" font-size="31.4" text-anchor="start">2 hours</text>
<path d="M341.3 1266.2h20.4l-10.2 17.6z" fill="#ff6600"/>
<text x="394" y="1284.8" font-size="31.4" text-anchor="start">3 hours</text>
<path d="M341.3 1307.2h20.4l-10.2 17.6z" fill="#0a9a3a"/>
<text x="394" y="1325.8" font-size="31.4" text-anchor="start">5 hours</text>
<path d="M341.3 1347.6h20.4l-10.2 17.6z" fill="#c8693a"/>
<text x="394" y="1366.2" font-size="31.4" text-anchor="start">12 hours</text>
<rect x="1091" y="858" width="674" height="560.7" fill="none" stroke="#000" stroke-width="3.6"/>
<path d="M1158.5 1418.7V1407.9M1225.9 1418.7V1407.9M1293.3 1418.7V1407.9M1360.7 1418.7V1407.9M1428 1418.7V1407.9M1495.4 1418.7V1407.9M1562.8 1418.7V1407.9M1630.2 1418.7V1407.9M1697.6 1418.7V1407.9" stroke="#000" stroke-width="3.0" stroke-linecap="round" fill="none"/>
<path d="M1124.8 1418.7V1413.4M1192.2 1418.7V1413.4M1259.6 1418.7V1413.4M1327 1418.7V1413.4M1394.4 1418.7V1413.4M1461.7 1418.7V1413.4M1529.1 1418.7V1413.4M1596.5 1418.7V1413.4M1663.9 1418.7V1413.4M1731.3 1418.7V1413.4" stroke="#000" stroke-width="3.0" stroke-linecap="round" fill="none"/>
<path d="M1158.5 858V868.8M1225.9 858V868.8M1293.3 858V868.8M1360.7 858V868.8M1428 858V868.8M1495.4 858V868.8M1562.8 858V868.8M1630.2 858V868.8M1697.6 858V868.8" stroke="#000" stroke-width="3.0" stroke-linecap="round" fill="none"/>
<path d="M1124.8 858V863.3M1192.2 858V863.3M1259.6 858V863.3M1327 858V863.3M1394.4 858V863.3M1461.7 858V863.3M1529.1 858V863.3M1596.5 858V863.3M1663.9 858V863.3M1731.3 858V863.3" stroke="#000" stroke-width="3.0" stroke-linecap="round" fill="none"/>
<path d="M1091 1362.6H1101.8M1091 1306.6H1101.8M1091 1250.5H1101.8M1091 1194.4H1101.8M1091 1138.3H1101.8M1091 1082.3H1101.8M1091 1026.2H1101.8M1091 970.1H1101.8M1091 914.1H1101.8" stroke="#000" stroke-width="3.0" stroke-linecap="round" fill="none"/>
<path d="M1091 1390.7H1096.3M1091 1334.6H1096.3M1091 1278.5H1096.3M1091 1222.5H1096.3M1091 1166.4H1096.3M1091 1110.3H1096.3M1091 1054.2H1096.3M1091 998.2H1096.3M1091 942.1H1096.3M1091 886H1096.3" stroke="#000" stroke-width="3.0" stroke-linecap="round" fill="none"/>
<path d="M1765 1362.6H1754.2M1765 1306.6H1754.2M1765 1250.5H1754.2M1765 1194.4H1754.2M1765 1138.3H1754.2M1765 1082.3H1754.2M1765 1026.2H1754.2M1765 970.1H1754.2M1765 914.1H1754.2" stroke="#000" stroke-width="3.0" stroke-linecap="round" fill="none"/>
<path d="M1765 1390.7H1759.7M1765 1334.6H1759.7M1765 1278.5H1759.7M1765 1222.5H1759.7M1765 1166.4H1759.7M1765 1110.3H1759.7M1765 1054.2H1759.7M1765 998.2H1759.7M1765 942.1H1759.7M1765 886H1759.7" stroke="#000" stroke-width="3.0" stroke-linecap="round" fill="none"/>
<text x="1091.1" y="1460.8" font-size="34.2" text-anchor="middle">0</text>
<text x="1158.5" y="1460.8" font-size="34.2" text-anchor="middle">10</text>
<text x="1225.9" y="1460.8" font-size="34.2" text-anchor="middle">20</text>
<text x="1293.3" y="1460.8" font-size="34.2" text-anchor="middle">30</text>
<text x="1360.7" y="1460.8" font-size="34.2" text-anchor="middle">40</text>
<text x="1428" y="1460.8" font-size="34.2" text-anchor="middle">50</text>
<text x="1495.4" y="1460.8" font-size="34.2" text-anchor="middle">60</text>
<text x="1562.8" y="1460.8" font-size="34.2" text-anchor="middle">70</text>
<text x="1630.2" y="1460.8" font-size="34.2" text-anchor="middle">80</text>
<text x="1697.6" y="1460.8" font-size="34.2" text-anchor="middle">90</text>
<text x="1765" y="1460.8" font-size="34.2" text-anchor="middle">100</text>
<text x="1079.4" y="1430.9" font-size="34.2" text-anchor="end">0</text>
<text x="1079.4" y="1374.8" font-size="34.2" text-anchor="end">0.1</text>
<text x="1079.4" y="1318.8" font-size="34.2" text-anchor="end">0.2</text>
<text x="1079.4" y="1262.7" font-size="34.2" text-anchor="end">0.3</text>
<text x="1079.4" y="1206.6" font-size="34.2" text-anchor="end">0.4</text>
<text x="1079.4" y="1150.5" font-size="34.2" text-anchor="end">0.5</text>
<text x="1079.4" y="1094.5" font-size="34.2" text-anchor="end">0.6</text>
<text x="1079.4" y="1038.4" font-size="34.2" text-anchor="end">0.7</text>
<text x="1079.4" y="982.3" font-size="34.2" text-anchor="end">0.8</text>
<text x="1079.4" y="926.3" font-size="34.2" text-anchor="end">0.9</text>
<text x="1079.4" y="870.2" font-size="34.2" text-anchor="end">1</text>
<g>
<g fill="#000000"><circle cx="1097.8" cy="1391.2" r="5.9"/><circle cx="1104.6" cy="1375" r="5.9"/><circle cx="1111.3" cy="1368.2" r="5.9"/><circle cx="1118.1" cy="1367.2" r="5.9"/><circle cx="1124.8" cy="1366.3" r="5.9"/><circle cx="1131.5" cy="1365.3" r="5.9"/><circle cx="1138.3" cy="1364.5" r="5.9"/><circle cx="1145" cy="1363.7" r="5.9"/><circle cx="1151.8" cy="1363" r="5.9"/><circle cx="1158.5" cy="1362.3" r="5.9"/><circle cx="1165.2" cy="1361.8" r="5.9"/><circle cx="1172" cy="1361.3" r="5.9"/><circle cx="1178.7" cy="1360.9" r="5.9"/><circle cx="1185.4" cy="1360.4" r="5.9"/><circle cx="1192.2" cy="1360.1" r="5.9"/><circle cx="1198.9" cy="1359.7" r="5.9"/><circle cx="1205.7" cy="1359.3" r="5.9"/><circle cx="1212.4" cy="1358.9" r="5.9"/><circle cx="1219.1" cy="1358.5" r="5.9"/><circle cx="1225.9" cy="1358.1" r="5.9"/><circle cx="1232.6" cy="1357.7" r="5.9"/><circle cx="1239.4" cy="1357.3" r="5.9"/><circle cx="1246.1" cy="1356.8" r="5.9"/><circle cx="1252.8" cy="1356.3" r="5.9"/><circle cx="1259.6" cy="1355.9" r="5.9"/><circle cx="1266.3" cy="1355.4" r="5.9"/><circle cx="1273.1" cy="1354.9" r="5.9"/><circle cx="1279.8" cy="1354.4" r="5.9"/><circle cx="1286.5" cy="1353.9" r="5.9"/><circle cx="1293.3" cy="1353.4" r="5.9"/><circle cx="1300" cy="1352.9" r="5.9"/><circle cx="1306.7" cy="1352.4" r="5.9"/><circle cx="1313.5" cy="1352" r="5.9"/><circle cx="1320.2" cy="1351.5" r="5.9"/><circle cx="1327" cy="1351.1" r="5.9"/><circle cx="1333.7" cy="1350.6" r="5.9"/><circle cx="1340.4" cy="1350.2" r="5.9"/><circle cx="1347.2" cy="1349.9" r="5.9"/><circle cx="1353.9" cy="1349.5" r="5.9"/><circle cx="1360.7" cy="1349.2" r="5.9"/><circle cx="1367.4" cy="1348.9" r="5.9"/><circle cx="1374.1" cy="1348.6" r="5.9"/><circle cx="1380.9" cy="1348.3" r="5.9"/><circle cx="1387.6" cy="1348.1" r="5.9"/><circle cx="1394.4" cy="1348" r="5.9"/><circle cx="1401.1" cy="1347.8" r="5.9"/><circle cx="1407.8" cy="1347.7" r="5.9"/><circle cx="1414.6" cy="1347.6" r="5.9"/><circle cx="1421.3" cy="1347.4" r="5.9"/><circle cx="1428" cy="1347.3" r="5.9"/><circle cx="1434.8" cy="1347.2" r="5.9"/><circle cx="1441.5" cy="1347.1" r="5.9"/><circle cx="1448.3" cy="1347.1" r="5.9"/><circle cx="1455" cy="1347" r="5.9"/><circle cx="1461.7" cy="1346.9" r="5.9"/><circle cx="1468.5" cy="1346.8" r="5.9"/><circle cx="1475.2" cy="1346.7" r="5.9"/><circle cx="1482" cy="1346.6" r="5.9"/><circle cx="1488.7" cy="1346.6" r="5.9"/><circle cx="1495.4" cy="1346.5" r="5.9"/><circle cx="1502.2" cy="1346.4" r="5.9"/><circle cx="1508.9" cy="1346.3" r="5.9"/><circle cx="1515.7" cy="1346.2" r="5.9"/><circle cx="1522.4" cy="1346.1" r="5.9"/><circle cx="1529.1" cy="1345.9" r="5.9"/><circle cx="1535.9" cy="1345.8" r="5.9"/><circle cx="1542.6" cy="1345.7" r="5.9"/><circle cx="1549.4" cy="1345.5" r="5.9"/><circle cx="1556.1" cy="1345.4" r="5.9"/><circle cx="1562.8" cy="1345.2" r="5.9"/><circle cx="1569.6" cy="1345" r="5.9"/><circle cx="1576.3" cy="1344.8" r="5.9"/><circle cx="1583" cy="1344.7" r="5.9"/><circle cx="1589.8" cy="1344.5" r="5.9"/><circle cx="1596.5" cy="1344.3" r="5.9"/><circle cx="1603.3" cy="1344.1" r="5.9"/><circle cx="1610" cy="1343.9" r="5.9"/><circle cx="1616.7" cy="1343.7" r="5.9"/><circle cx="1623.5" cy="1343.4" r="5.9"/><circle cx="1630.2" cy="1343.2" r="5.9"/><circle cx="1637" cy="1343" r="5.9"/><circle cx="1643.7" cy="1342.8" r="5.9"/><circle cx="1650.4" cy="1342.5" r="5.9"/><circle cx="1657.2" cy="1342.3" r="5.9"/><circle cx="1663.9" cy="1342" r="5.9"/><circle cx="1670.7" cy="1341.8" r="5.9"/><circle cx="1677.4" cy="1341.5" r="5.9"/><circle cx="1684.1" cy="1341.2" r="5.9"/><circle cx="1690.9" cy="1341" r="5.9"/><circle cx="1697.6" cy="1340.7" r="5.9"/><circle cx="1704.3" cy="1340.4" r="5.9"/><circle cx="1711.1" cy="1340.1" r="5.9"/><circle cx="1717.8" cy="1339.8" r="5.9"/><circle cx="1724.6" cy="1339.5" r="5.9"/><circle cx="1731.3" cy="1339.2" r="5.9"/><circle cx="1738" cy="1338.9" r="5.9"/><circle cx="1744.8" cy="1338.6" r="5.9"/><circle cx="1751.5" cy="1338.3" r="5.9"/><circle cx="1758.3" cy="1338" r="5.9"/><circle cx="1765" cy="1337.7" r="5.9"/></g>
<g fill="#0000ff"><circle cx="1097.8" cy="1391.2" r="5.9"/><circle cx="1104.6" cy="1374.6" r="5.9"/><circle cx="1111.3" cy="1369.5" r="5.9"/><circle cx="1118.1" cy="1368.5" r="5.9"/><circle cx="1124.8" cy="1367.5" r="5.9"/><circle cx="1131.5" cy="1366.6" r="5.9"/><circle cx="1138.3" cy="1365.8" r="5.9"/><circle cx="1145" cy="1364.9" r="5.9"/><circle cx="1151.8" cy="1364.2" r="5.9"/><circle cx="1158.5" cy="1363.5" r="5.9"/><circle cx="1165.2" cy="1362.8" r="5.9"/><circle cx="1172" cy="1362.2" r="5.9"/><circle cx="1178.7" cy="1361.7" r="5.9"/><circle cx="1185.4" cy="1361.1" r="5.9"/><circle cx="1192.2" cy="1360.6" r="5.9"/><circle cx="1198.9" cy="1360.1" r="5.9"/><circle cx="1205.7" cy="1359.6" r="5.9"/><circle cx="1212.4" cy="1359.1" r="5.9"/><circle cx="1219.1" cy="1358.6" r="5.9"/><circle cx="1225.9" cy="1358.1" r="5.9"/><circle cx="1232.6" cy="1357.6" r="5.9"/><circle cx="1239.4" cy="1357.1" r="5.9"/><circle cx="1246.1" cy="1356.6" r="5.9"/><circle cx="1252.8" cy="1356.1" r="5.9"/><circle cx="1259.6" cy="1355.5" r="5.9"/><circle cx="1266.3" cy="1355" r="5.9"/><circle cx="1273.1" cy="1354.4" r="5.9"/><circle cx="1279.8" cy="1353.9" r="5.9"/><circle cx="1286.5" cy="1353.3" r="5.9"/><circle cx="1293.3" cy="1352.8" r="5.9"/><circle cx="1300" cy="1352.3" r="5.9"/><circle cx="1306.7" cy="1351.8" r="5.9"/><circle cx="1313.5" cy="1351.2" r="5.9"/><circle cx="1320.2" cy="1350.8" r="5.9"/><circle cx="1327" cy="1350.3" r="5.9"/><circle cx="1333.7" cy="1349.8" r="5.9"/><circle cx="1340.4" cy="1349.4" r="5.9"/><circle cx="1347.2" cy="1349" r="5.9"/><circle cx="1353.9" cy="1348.6" r="5.9"/><circle cx="1360.7" cy="1348.2" r="5.9"/><circle cx="1367.4" cy="1347.9" r="5.9"/><circle cx="1374.1" cy="1347.5" r="5.9"/><circle cx="1380.9" cy="1347.3" r="5.9"/><circle cx="1387.6" cy="1347" r="5.9"/><circle cx="1394.4" cy="1346.8" r="5.9"/><circle cx="1401.1" cy="1346.6" r="5.9"/><circle cx="1407.8" cy="1346.5" r="5.9"/><circle cx="1414.6" cy="1346.3" r="5.9"/><circle cx="1421.3" cy="1346.2" r="5.9"/><circle cx="1428" cy="1346" r="5.9"/><circle cx="1434.8" cy="1345.9" r="5.9"/><circle cx="1441.5" cy="1345.8" r="5.9"/><circle cx="1448.3" cy="1345.7" r="5.9"/><circle cx="1455" cy="1345.6" r="5.9"/><circle cx="1461.7" cy="1345.5" r="5.9"/><circle cx="1468.5" cy="1345.4" r="5.9"/><circle cx="1475.2" cy="1345.3" r="5.9"/><circle cx="1482" cy="1345.2" r="5.9"/><circle cx="1488.7" cy="1345" r="5.9"/><circle cx="1495.4" cy="1344.9" r="5.9"/><circle cx="1502.2" cy="1344.8" r="5.9"/><circle cx="1508.9" cy="1344.7" r="5.9"/><circle cx="1515.7" cy="1344.6" r="5.9"/><circle cx="1522.4" cy="1344.4" r="5.9"/><circle cx="1529.1" cy="1344.3" r="5.9"/><circle cx="1535.9" cy="1344.1" r="5.9"/><circle cx="1542.6" cy="1344" r="5.9"/><circle cx="1549.4" cy="1343.8" r="5.9"/><circle cx="1556.1" cy="1343.6" r="5.9"/><circle cx="1562.8" cy="1343.4" r="5.9"/><circle cx="1569.6" cy="1343.2" r="5.9"/><circle cx="1576.3" cy="1343" r="5.9"/><circle cx="1583" cy="1342.8" r="5.9"/><circle cx="1589.8" cy="1342.6" r="5.9"/><circle cx="1596.5" cy="1342.4" r="5.9"/><circle cx="1603.3" cy="1342.2" r="5.9"/><circle cx="1610" cy="1342" r="5.9"/><circle cx="1616.7" cy="1341.8" r="5.9"/><circle cx="1623.5" cy="1341.5" r="5.9"/><circle cx="1630.2" cy="1341.3" r="5.9"/><circle cx="1637" cy="1341.1" r="5.9"/><circle cx="1643.7" cy="1340.8" r="5.9"/><circle cx="1650.4" cy="1340.6" r="5.9"/><circle cx="1657.2" cy="1340.3" r="5.9"/><circle cx="1663.9" cy="1340.1" r="5.9"/><circle cx="1670.7" cy="1339.8" r="5.9"/><circle cx="1677.4" cy="1339.5" r="5.9"/><circle cx="1684.1" cy="1339.3" r="5.9"/><circle cx="1690.9" cy="1339" r="5.9"/><circle cx="1697.6" cy="1338.7" r="5.9"/><circle cx="1704.3" cy="1338.4" r="5.9"/><circle cx="1711.1" cy="1338.1" r="5.9"/><circle cx="1717.8" cy="1337.9" r="5.9"/><circle cx="1724.6" cy="1337.6" r="5.9"/><circle cx="1731.3" cy="1337.3" r="5.9"/><circle cx="1738" cy="1337" r="5.9"/><circle cx="1744.8" cy="1336.7" r="5.9"/><circle cx="1751.5" cy="1336.3" r="5.9"/><circle cx="1758.3" cy="1336" r="5.9"/><circle cx="1765" cy="1335.7" r="5.9"/></g>
<g fill="#ff0000"><circle cx="1097.8" cy="1390.4" r="5.9"/><circle cx="1104.6" cy="1375.8" r="5.9"/><circle cx="1111.3" cy="1371.6" r="5.9"/><circle cx="1118.1" cy="1370.2" r="5.9"/><circle cx="1124.8" cy="1368.8" r="5.9"/><circle cx="1131.5" cy="1367.4" r="5.9"/><circle cx="1138.3" cy="1366.1" r="5.9"/><circle cx="1145" cy="1364.7" r="5.9"/><circle cx="1151.8" cy="1363.4" r="5.9"/><circle cx="1158.5" cy="1362.1" r="5.9"/><circle cx="1165.2" cy="1360.8" r="5.9"/><circle cx="1172" cy="1359.5" r="5.9"/><circle cx="1178.7" cy="1358.1" r="5.9"/><circle cx="1185.4" cy="1356.8" r="5.9"/><circle cx="1192.2" cy="1355.6" r="5.9"/><circle cx="1198.9" cy="1354.3" r="5.9"/><circle cx="1205.7" cy="1353.1" r="5.9"/><circle cx="1212.4" cy="1351.9" r="5.9"/><circle cx="1219.1" cy="1350.8" r="5.9"/><circle cx="1225.9" cy="1349.7" r="5.9"/><circle cx="1232.6" cy="1348.7" r="5.9"/><circle cx="1239.4" cy="1347.7" r="5.9"/><circle cx="1246.1" cy="1346.7" r="5.9"/><circle cx="1252.8" cy="1345.8" r="5.9"/><circle cx="1259.6" cy="1344.9" r="5.9"/><circle cx="1266.3" cy="1344" r="5.9"/><circle cx="1273.1" cy="1343.2" r="5.9"/><circle cx="1279.8" cy="1342.4" r="5.9"/><circle cx="1286.5" cy="1341.7" r="5.9"/><circle cx="1293.3" cy="1341" r="5.9"/><circle cx="1300" cy="1340.4" r="5.9"/><circle cx="1306.7" cy="1339.8" r="5.9"/><circle cx="1313.5" cy="1339.3" r="5.9"/><circle cx="1320.2" cy="1338.7" r="5.9"/><circle cx="1327" cy="1338.1" r="5.9"/><circle cx="1333.7" cy="1337.6" r="5.9"/><circle cx="1340.4" cy="1337.1" r="5.9"/><circle cx="1347.2" cy="1336.6" r="5.9"/><circle cx="1353.9" cy="1336.2" r="5.9"/><circle cx="1360.7" cy="1335.8" r="5.9"/><circle cx="1367.4" cy="1335.4" r="5.9"/><circle cx="1374.1" cy="1335.1" r="5.9"/><circle cx="1380.9" cy="1334.9" r="5.9"/><circle cx="1387.6" cy="1334.7" r="5.9"/><circle cx="1394.4" cy="1334.5" r="5.9"/><circle cx="1401.1" cy="1334.4" r="5.9"/><circle cx="1407.8" cy="1334.3" r="5.9"/><circle cx="1414.6" cy="1334.2" r="5.9"/><circle cx="1421.3" cy="1334.1" r="5.9"/><circle cx="1428" cy="1334" r="5.9"/><circle cx="1434.8" cy="1334" r="5.9"/><circle cx="1441.5" cy="1333.9" r="5.9"/><circle cx="1448.3" cy="1333.8" r="5.9"/><circle cx="1455" cy="1333.8" r="5.9"/><circle cx="1461.7" cy="1333.7" r="5.9"/><circle cx="1468.5" cy="1333.7" r="5.9"/><circle cx="1475.2" cy="1333.6" r="5.9"/><circle cx="1482" cy="1333.6" r="5.9"/><circle cx="1488.7" cy="1333.5" r="5.9"/><circle cx="1495.4" cy="1333.5" r="5.9"/><circle cx="1502.2" cy="1333.4" r="5.9"/><circle cx="1508.9" cy="1333.3" r="5.9"/><circle cx="1515.7" cy="1333.3" r="5.9"/><circle cx="1522.4" cy="1333.2" r="5.9"/><circle cx="1529.1" cy="1333.1" r="5.9"/><circle cx="1535.9" cy="1333" r="5.9"/><circle cx="1542.6" cy="1332.9" r="5.9"/><circle cx="1549.4" cy="1332.8" r="5.9"/><circle cx="1556.1" cy="1332.7" r="5.9"/><circle cx="1562.8" cy="1332.6" r="5.9"/><circle cx="1569.6" cy="1332.5" r="5.9"/><circle cx="1576.3" cy="1332.4" r="5.9"/><circle cx="1583" cy="1332.3" r="5.9"/><circle cx="1589.8" cy="1332.1" r="5.9"/><circle cx="1596.5" cy="1332" r="5.9"/><circle cx="1603.3" cy="1331.9" r="5.9"/><circle cx="1610" cy="1331.8" r="5.9"/><circle cx="1616.7" cy="1331.6" r="5.9"/><circle cx="1623.5" cy="1331.5" r="5.9"/><circle cx="1630.2" cy="1331.3" r="5.9"/><circle cx="1637" cy="1331.2" r="5.9"/><circle cx="1643.7" cy="1331" r="5.9"/><circle cx="1650.4" cy="1330.9" r="5.9"/><circle cx="1657.2" cy="1330.7" r="5.9"/><circle cx="1663.9" cy="1330.6" r="5.9"/><circle cx="1670.7" cy="1330.4" r="5.9"/><circle cx="1677.4" cy="1330.2" r="5.9"/><circle cx="1684.1" cy="1330.1" r="5.9"/><circle cx="1690.9" cy="1329.9" r="5.9"/><circle cx="1697.6" cy="1329.7" r="5.9"/><circle cx="1704.3" cy="1329.6" r="5.9"/><circle cx="1711.1" cy="1329.4" r="5.9"/><circle cx="1717.8" cy="1329.2" r="5.9"/><circle cx="1724.6" cy="1329" r="5.9"/><circle cx="1731.3" cy="1328.8" r="5.9"/><circle cx="1738" cy="1328.6" r="5.9"/><circle cx="1744.8" cy="1328.5" r="5.9"/><circle cx="1751.5" cy="1328.3" r="5.9"/><circle cx="1758.3" cy="1328.1" r="5.9"/><circle cx="1765" cy="1327.9" r="5.9"/></g>
<g fill="#ff6600"><circle cx="1097.8" cy="1390.7" r="5.9"/><circle cx="1104.6" cy="1376.1" r="5.9"/><circle cx="1111.3" cy="1372.2" r="5.9"/><circle cx="1118.1" cy="1370.8" r="5.9"/><circle cx="1124.8" cy="1369.4" r="5.9"/><circle cx="1131.5" cy="1368" r="5.9"/><circle cx="1138.3" cy="1366.6" r="5.9"/><circle cx="1145" cy="1365.3" r="5.9"/><circle cx="1151.8" cy="1363.9" r="5.9"/><circle cx="1158.5" cy="1362.6" r="5.9"/><circle cx="1165.2" cy="1361.3" r="5.9"/><circle cx="1172" cy="1360" r="5.9"/><circle cx="1178.7" cy="1358.7" r="5.9"/><circle cx="1185.4" cy="1357.4" r="5.9"/><circle cx="1192.2" cy="1356.1" r="5.9"/><circle cx="1198.9" cy="1354.9" r="5.9"/><circle cx="1205.7" cy="1353.6" r="5.9"/><circle cx="1212.4" cy="1352.5" r="5.9"/><circle cx="1219.1" cy="1351.3" r="5.9"/><circle cx="1225.9" cy="1350.3" r="5.9"/><circle cx="1232.6" cy="1349.3" r="5.9"/><circle cx="1239.4" cy="1348.3" r="5.9"/><circle cx="1246.1" cy="1347.3" r="5.9"/><circle cx="1252.8" cy="1346.3" r="5.9"/><circle cx="1259.6" cy="1345.4" r="5.9"/><circle cx="1266.3" cy="1344.5" r="5.9"/><circle cx="1273.1" cy="1343.7" r="5.9"/><circle cx="1279.8" cy="1342.9" r="5.9"/><circle cx="1286.5" cy="1342.2" r="5.9"/><circle cx="1293.3" cy="1341.6" r="5.9"/><circle cx="1300" cy="1341" r="5.9"/><circle cx="1306.7" cy="1340.4" r="5.9"/><circle cx="1313.5" cy="1339.8" r="5.9"/><circle cx="1320.2" cy="1339.2" r="5.9"/><circle cx="1327" cy="1338.7" r="5.9"/><circle cx="1333.7" cy="1338.2" r="5.9"/><circle cx="1340.4" cy="1337.7" r="5.9"/><circle cx="1347.2" cy="1337.2" r="5.9"/><circle cx="1353.9" cy="1336.7" r="5.9"/><circle cx="1360.7" cy="1336.3" r="5.9"/><circle cx="1367.4" cy="1336" r="5.9"/><circle cx="1374.1" cy="1335.7" r="5.9"/><circle cx="1380.9" cy="1335.4" r="5.9"/><circle cx="1387.6" cy="1335.2" r="5.9"/><circle cx="1394.4" cy="1335.1" r="5.9"/><circle cx="1401.1" cy="1335" r="5.9"/><circle cx="1407.8" cy="1334.9" r="5.9"/><circle cx="1414.6" cy="1334.8" r="5.9"/><circle cx="1421.3" cy="1334.7" r="5.9"/><circle cx="1428" cy="1334.6" r="5.9"/><circle cx="1434.8" cy="1334.5" r="5.9"/><circle cx="1441.5" cy="1334.5" r="5.9"/><circle cx="1448.3" cy="1334.4" r="5.9"/><circle cx="1455" cy="1334.3" r="5.9"/><circle cx="1461.7" cy="1334.3" r="5.9"/><circle cx="1468.5" cy="1334.2" r="5.9"/><circle cx="1475.2" cy="1334.2" r="5.9"/><circle cx="1482" cy="1334.1" r="5.9"/><circle cx="1488.7" cy="1334.1" r="5.9"/><circle cx="1495.4" cy="1334" r="5.9"/><circle cx="1502.2" cy="1334" r="5.9"/><circle cx="1508.9" cy="1333.9" r="5.9"/><circle cx="1515.7" cy="1333.8" r="5.9"/><circle cx="1522.4" cy="1333.8" r="5.9"/><circle cx="1529.1" cy="1333.7" r="5.9"/><circle cx="1535.9" cy="1333.6" r="5.9"/><circle cx="1542.6" cy="1333.5" r="5.9"/><circle cx="1549.4" cy="1333.4" r="5.9"/><circle cx="1556.1" cy="1333.3" r="5.9"/><circle cx="1562.8" cy="1333.2" r="5.9"/><circle cx="1569.6" cy="1333.1" r="5.9"/><circle cx="1576.3" cy="1332.9" r="5.9"/><circle cx="1583" cy="1332.8" r="5.9"/><circle cx="1589.8" cy="1332.7" r="5.9"/><circle cx="1596.5" cy="1332.6" r="5.9"/><circle cx="1603.3" cy="1332.4" r="5.9"/><circle cx="1610" cy="1332.3" r="5.9"/><circle cx="1616.7" cy="1332.2" r="5.9"/><circle cx="1623.5" cy="1332" r="5.9"/><circle cx="1630.2" cy="1331.9" r="5.9"/><circle cx="1637" cy="1331.7" r="5.9"/><circle cx="1643.7" cy="1331.6" r="5.9"/><circle cx="1650.4" cy="1331.4" r="5.9"/><circle cx="1657.2" cy="1331.3" r="5.9"/><circle cx="1663.9" cy="1331.1" r="5.9"/><circle cx="1670.7" cy="1331" r="5.9"/><circle cx="1677.4" cy="1330.8" r="5.9"/><circle cx="1684.1" cy="1330.6" r="5.9"/><circle cx="1690.9" cy="1330.5" r="5.9"/><circle cx="1697.6" cy="1330.3" r="5.9"/><circle cx="1704.3" cy="1330.1" r="5.9"/><circle cx="1711.1" cy="1329.9" r="5.9"/><circle cx="1717.8" cy="1329.8" r="5.9"/><circle cx="1724.6" cy="1329.6" r="5.9"/><circle cx="1731.3" cy="1329.4" r="5.9"/><circle cx="1738" cy="1329.2" r="5.9"/><circle cx="1744.8" cy="1329" r="5.9"/><circle cx="1751.5" cy="1328.8" r="5.9"/><circle cx="1758.3" cy="1328.6" r="5.9"/><circle cx="1765" cy="1328.4" r="5.9"/></g>
<g fill="#0a9a3a"><circle cx="1097.8" cy="1397.1" r="5.9"/><circle cx="1104.6" cy="1377.8" r="5.9"/><circle cx="1111.3" cy="1373.8" r="5.9"/><circle cx="1118.1" cy="1372.8" r="5.9"/><circle cx="1124.8" cy="1371.8" r="5.9"/><circle cx="1131.5" cy="1370.9" r="5.9"/><circle cx="1138.3" cy="1369.9" r="5.9"/><circle cx="1145" cy="1369" r="5.9"/><circle cx="1151.8" cy="1368" r="5.9"/><circle cx="1158.5" cy="1367.1" r="5.9"/><circle cx="1165.2" cy="1366.2" r="5.9"/><circle cx="1172" cy="1365.3" r="5.9"/><circle cx="1178.7" cy="1364.4" r="5.9"/><circle cx="1185.4" cy="1363.4" r="5.9"/><circle cx="1192.2" cy="1362.5" r="5.9"/><circle cx="1198.9" cy="1361.7" r="5.9"/><circle cx="1205.7" cy="1360.9" r="5.9"/><circle cx="1212.4" cy="1360.1" r="5.9"/><circle cx="1219.1" cy="1359.4" r="5.9"/><circle cx="1225.9" cy="1358.7" r="5.9"/><circle cx="1232.6" cy="1358.1" r="5.9"/><circle cx="1239.4" cy="1357.5" r="5.9"/><circle cx="1246.1" cy="1356.9" r="5.9"/><circle cx="1252.8" cy="1356.3" r="5.9"/><circle cx="1259.6" cy="1355.8" r="5.9"/><circle cx="1266.3" cy="1355.2" r="5.9"/><circle cx="1273.1" cy="1354.7" r="5.9"/><circle cx="1279.8" cy="1354.2" r="5.9"/><circle cx="1286.5" cy="1353.6" r="5.9"/><circle cx="1293.3" cy="1353.1" r="5.9"/><circle cx="1300" cy="1352.6" r="5.9"/><circle cx="1306.7" cy="1352.2" r="5.9"/><circle cx="1313.5" cy="1351.7" r="5.9"/><circle cx="1320.2" cy="1351.3" r="5.9"/><circle cx="1327" cy="1350.9" r="5.9"/><circle cx="1333.7" cy="1350.4" r="5.9"/><circle cx="1340.4" cy="1350.1" r="5.9"/><circle cx="1347.2" cy="1349.7" r="5.9"/><circle cx="1353.9" cy="1349.3" r="5.9"/><circle cx="1360.7" cy="1349" r="5.9"/><circle cx="1367.4" cy="1348.7" r="5.9"/><circle cx="1374.1" cy="1348.4" r="5.9"/><circle cx="1380.9" cy="1348.1" r="5.9"/><circle cx="1387.6" cy="1347.9" r="5.9"/><circle cx="1394.4" cy="1347.7" r="5.9"/><circle cx="1401.1" cy="1347.5" r="5.9"/><circle cx="1407.8" cy="1347.3" r="5.9"/><circle cx="1414.6" cy="1347.1" r="5.9"/><circle cx="1421.3" cy="1346.9" r="5.9"/><circle cx="1428" cy="1346.8" r="5.9"/><circle cx="1434.8" cy="1346.6" r="5.9"/><circle cx="1441.5" cy="1346.5" r="5.9"/><circle cx="1448.3" cy="1346.3" r="5.9"/><circle cx="1455" cy="1346.2" r="5.9"/><circle cx="1461.7" cy="1346.1" r="5.9"/><circle cx="1468.5" cy="1346" r="5.9"/><circle cx="1475.2" cy="1345.8" r="5.9"/><circle cx="1482" cy="1345.7" r="5.9"/><circle cx="1488.7" cy="1345.6" r="5.9"/><circle cx="1495.4" cy="1345.5" r="5.9"/><circle cx="1502.2" cy="1345.3" r="5.9"/><circle cx="1508.9" cy="1345.2" r="5.9"/><circle cx="1515.7" cy="1345" r="5.9"/><circle cx="1522.4" cy="1344.9" r="5.9"/><circle cx="1529.1" cy="1344.7" r="5.9"/><circle cx="1535.9" cy="1344.5" r="5.9"/><circle cx="1542.6" cy="1344.3" r="5.9"/><circle cx="1549.4" cy="1344.1" r="5.9"/><circle cx="1556.1" cy="1343.9" r="5.9"/><circle cx="1562.8" cy="1343.7" r="5.9"/><circle cx="1569.6" cy="1343.5" r="5.9"/><circle cx="1576.3" cy="1343.3" r="5.9"/><circle cx="1583" cy="1343.1" r="5.9"/><circle cx="1589.8" cy="1342.8" r="5.9"/><circle cx="1596.5" cy="1342.6" r="5.9"/><circle cx="1603.3" cy="1342.3" r="5.9"/><circle cx="1610" cy="1342.1" r="5.9"/><circle cx="1616.7" cy="1341.8" r="5.9"/><circle cx="1623.5" cy="1341.6" r="5.9"/><circle cx="1630.2" cy="1341.3" r="5.9"/><circle cx="1637" cy="1341.1" r="5.9"/><circle cx="1643.7" cy="1340.8" r="5.9"/><circle cx="1650.4" cy="1340.5" r="5.9"/><circle cx="1657.2" cy="1340.2" r="5.9"/><circle cx="1663.9" cy="1340" r="5.9"/><circle cx="1670.7" cy="1339.7" r="5.9"/><circle cx="1677.4" cy="1339.4" r="5.9"/><circle cx="1684.1" cy="1339.1" r="5.9"/><circle cx="1690.9" cy="1338.8" r="5.9"/><circle cx="1697.6" cy="1338.5" r="5.9"/><circle cx="1704.3" cy="1338.2" r="5.9"/><circle cx="1711.1" cy="1337.8" r="5.9"/><circle cx="1717.8" cy="1337.5" r="5.9"/><circle cx="1724.6" cy="1337.2" r="5.9"/><circle cx="1731.3" cy="1336.9" r="5.9"/><circle cx="1738" cy="1336.5" r="5.9"/><circle cx="1744.8" cy="1336.2" r="5.9"/><circle cx="1751.5" cy="1335.9" r="5.9"/><circle cx="1758.3" cy="1335.5" r="5.9"/><circle cx="1765" cy="1335.2" r="5.9"/></g>
<g fill="#c8693a"><circle cx="1097.8" cy="1391.3" r="5.9"/><circle cx="1104.6" cy="1377.9" r="5.9"/><circle cx="1111.3" cy="1373.8" r="5.9"/><circle cx="1118.1" cy="1373.2" r="5.9"/><circle cx="1124.8" cy="1372.6" r="5.9"/><circle cx="1131.5" cy="1372" r="5.9"/><circle cx="1138.3" cy="1371.4" r="5.9"/><circle cx="1145" cy="1370.8" r="5.9"/><circle cx="1151.8" cy="1370.2" r="5.9"/><circle cx="1158.5" cy="1369.6" r="5.9"/><circle cx="1165.2" cy="1369.1" r="5.9"/><circle cx="1172" cy="1368.6" r="5.9"/><circle cx="1178.7" cy="1368" r="5.9"/><circle cx="1185.4" cy="1367.5" r="5.9"/><circle cx="1192.2" cy="1367" r="5.9"/><circle cx="1198.9" cy="1366.5" r="5.9"/><circle cx="1205.7" cy="1366" r="5.9"/><circle cx="1212.4" cy="1365.5" r="5.9"/><circle cx="1219.1" cy="1365" r="5.9"/><circle cx="1225.9" cy="1364.5" r="5.9"/><circle cx="1232.6" cy="1364" r="5.9"/><circle cx="1239.4" cy="1363.4" r="5.9"/><circle cx="1246.1" cy="1362.9" r="5.9"/><circle cx="1252.8" cy="1362.4" r="5.9"/><circle cx="1259.6" cy="1361.8" r="5.9"/><circle cx="1266.3" cy="1361.3" r="5.9"/><circle cx="1273.1" cy="1360.7" r="5.9"/><circle cx="1279.8" cy="1360.2" r="5.9"/><circle cx="1286.5" cy="1359.6" r="5.9"/><circle cx="1293.3" cy="1359.1" r="5.9"/><circle cx="1300" cy="1358.5" r="5.9"/><circle cx="1306.7" cy="1358" r="5.9"/><circle cx="1313.5" cy="1357.4" r="5.9"/><circle cx="1320.2" cy="1356.9" r="5.9"/><circle cx="1327" cy="1356.4" r="5.9"/><circle cx="1333.7" cy="1355.9" r="5.9"/><circle cx="1340.4" cy="1355.4" r="5.9"/><circle cx="1347.2" cy="1354.9" r="5.9"/><circle cx="1353.9" cy="1354.4" r="5.9"/><circle cx="1360.7" cy="1353.9" r="5.9"/><circle cx="1367.4" cy="1353.4" r="5.9"/><circle cx="1374.1" cy="1353" r="5.9"/><circle cx="1380.9" cy="1352.6" r="5.9"/><circle cx="1387.6" cy="1352.2" r="5.9"/><circle cx="1394.4" cy="1351.8" r="5.9"/><circle cx="1401.1" cy="1351.4" r="5.9"/><circle cx="1407.8" cy="1351" r="5.9"/><circle cx="1414.6" cy="1350.7" r="5.9"/><circle cx="1421.3" cy="1350.3" r="5.9"/><circle cx="1428" cy="1350" r="5.9"/><circle cx="1434.8" cy="1349.7" r="5.9"/><circle cx="1441.5" cy="1349.4" r="5.9"/><circle cx="1448.3" cy="1349" r="5.9"/><circle cx="1455" cy="1348.7" r="5.9"/><circle cx="1461.7" cy="1348.4" r="5.9"/><circle cx="1468.5" cy="1348.1" r="5.9"/><circle cx="1475.2" cy="1347.8" r="5.9"/><circle cx="1482" cy="1347.5" r="5.9"/><circle cx="1488.7" cy="1347.3" r="5.9"/><circle cx="1495.4" cy="1347" r="5.9"/><circle cx="1502.2" cy="1346.7" r="5.9"/><circle cx="1508.9" cy="1346.4" r="5.9"/><circle cx="1515.7" cy="1346.1" r="5.9"/><circle cx="1522.4" cy="1345.8" r="5.9"/><circle cx="1529.1" cy="1345.5" r="5.9"/><circle cx="1535.9" cy="1345.2" r="5.9"/><circle cx="1542.6" cy="1345" r="5.9"/><circle cx="1549.4" cy="1344.7" r="5.9"/><circle cx="1556.1" cy="1344.4" r="5.9"/><circle cx="1562.8" cy="1344.1" r="5.9"/><circle cx="1569.6" cy="1343.8" r="5.9"/><circle cx="1576.3" cy="1343.5" r="5.9"/><circle cx="1583" cy="1343.2" r="5.9"/><circle cx="1589.8" cy="1343" r="5.9"/><circle cx="1596.5" cy="1342.7" r="5.9"/><circle cx="1603.3" cy="1342.4" r="5.9"/><circle cx="1610" cy="1342.1" r="5.9"/><circle cx="1616.7" cy="1341.8" r="5.9"/><circle cx="1623.5" cy="1341.6" r="5.9"/><circle cx="1630.2" cy="1341.3" r="5.9"/><circle cx="1637" cy="1341" r="5.9"/><circle cx="1643.7" cy="1340.7" r="5.9"/><circle cx="1650.4" cy="1340.5" r="5.9"/><circle cx="1657.2" cy="1340.2" r="5.9"/><circle cx="1663.9" cy="1339.9" r="5.9"/><circle cx="1670.7" cy="1339.7" r="5.9"/><circle cx="1677.4" cy="1339.4" r="5.9"/><circle cx="1684.1" cy="1339.1" r="5.9"/><circle cx="1690.9" cy="1338.9" r="5.9"/><circle cx="1697.6" cy="1338.6" r="5.9"/><circle cx="1704.3" cy="1338.4" r="5.9"/><circle cx="1711.1" cy="1338.1" r="5.9"/><circle cx="1717.8" cy="1337.8" r="5.9"/><circle cx="1724.6" cy="1337.6" r="5.9"/><circle cx="1731.3" cy="1337.3" r="5.9"/><circle cx="1738" cy="1337.1" r="5.9"/><circle cx="1744.8" cy="1336.8" r="5.9"/><circle cx="1751.5" cy="1336.6" r="5.9"/><circle cx="1758.3" cy="1336.4" r="5.9"/><circle cx="1765" cy="1336.1" r="5.9"/></g>
</g>
<text x="1428" y="1505.7" font-size="40.3" text-anchor="middle">Cycle Number</text>
<text x="1018" y="1139" font-size="40.3" text-anchor="middle" transform="rotate(-90 1018 1139)">Polarization (V)</text>
<circle cx="1152.1" cy="950" r="10.1" fill="#000000"/>
<text x="1194.4" y="960" font-size="31.4" text-anchor="start">DPM</text>
<circle cx="1152.1" cy="990.3" r="10.1" fill="#0000ff"/>
<text x="1194.4" y="1000.3" font-size="31.4" text-anchor="start">1 hour</text>
<circle cx="1152.1" cy="1030.6" r="10.1" fill="#ff0000"/>
<text x="1194.4" y="1040.6" font-size="31.4" text-anchor="start">2 hours</text>
<circle cx="1339.1" cy="952.1" r="10.1" fill="#ff6600"/>
<text x="1381.4" y="962.1" font-size="31.4" text-anchor="start">3 hours</text>
<circle cx="1339.1" cy="992.7" r="10.1" fill="#0a9a3a"/>
<text x="1381.4" y="1002.7" font-size="31.4" text-anchor="start">5 hours</text>
<circle cx="1339.1" cy="1033" r="10.1" fill="#c8693a"/>
<text x="1381.4" y="1043" font-size="31.4" text-anchor="start">12 hours</text>
</svg>
</body></html>
